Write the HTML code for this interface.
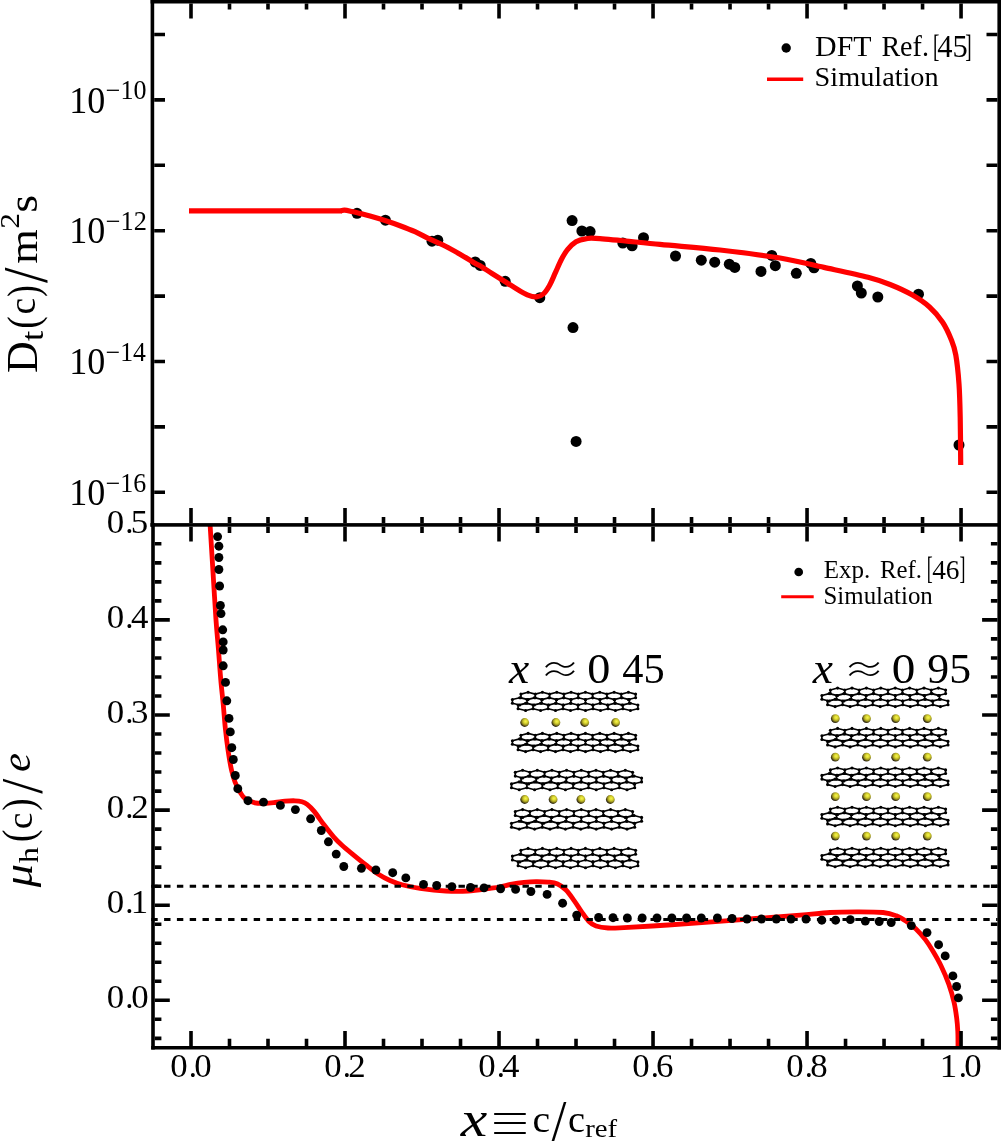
<!DOCTYPE html><html><head><meta charset="utf-8"><title>plot</title><style>html,body{margin:0;padding:0;background:#fff;}svg{display:block;}</style></head><body><svg width="1001" height="1141" viewBox="0 0 1001 1141" font-family="'Liberation Serif', serif" fill="#000">
<rect x="0" y="0" width="1001" height="1141" fill="#fff"/>
<defs>
<clipPath id="cpTop"><rect x="152" y="2" width="847" height="522"/></clipPath>
<clipPath id="cpBot"><rect x="153" y="526" width="846" height="521"/></clipPath>
<radialGradient id="ball" cx="0.6" cy="0.38" r="0.64" fx="0.6" fy="0.38">
<stop offset="0" stop-color="#f6f44c"/><stop offset="0.3" stop-color="#dedb34"/>
<stop offset="0.6" stop-color="#a49c22"/><stop offset="0.85" stop-color="#4a4212"/><stop offset="1" stop-color="#221c12"/></radialGradient>
</defs>
<g><circle cx="357" cy="213.3" r="5.5"/><circle cx="385.4" cy="220.2" r="5.5"/><circle cx="432" cy="241.2" r="5.5"/><circle cx="437.8" cy="240.2" r="5.5"/><circle cx="475.2" cy="262" r="5.5"/><circle cx="480.2" cy="265.4" r="5.5"/><circle cx="505.2" cy="281.3" r="5.5"/><circle cx="539.8" cy="297.7" r="5.5"/><circle cx="572.1" cy="220.6" r="5.5"/><circle cx="581.9" cy="231" r="5.5"/><circle cx="590.1" cy="231.6" r="5.5"/><circle cx="573" cy="327.6" r="5.5"/><circle cx="576.1" cy="441.4" r="5.5"/><circle cx="622.8" cy="243" r="5.5"/><circle cx="632.1" cy="245.8" r="5.5"/><circle cx="643.5" cy="237.7" r="5.5"/><circle cx="675.5" cy="256" r="5.5"/><circle cx="701.3" cy="260.2" r="5.5"/><circle cx="714.7" cy="262.2" r="5.5"/><circle cx="729.3" cy="264.2" r="5.5"/><circle cx="734.8" cy="267.4" r="5.5"/><circle cx="761" cy="271.4" r="5.5"/><circle cx="771.8" cy="255.4" r="5.5"/><circle cx="775.3" cy="265.7" r="5.5"/><circle cx="796.3" cy="273.3" r="5.5"/><circle cx="810.8" cy="263.4" r="5.5"/><circle cx="814" cy="267.8" r="5.5"/><circle cx="857.4" cy="286" r="5.5"/><circle cx="861.3" cy="293" r="5.5"/><circle cx="877.8" cy="297" r="5.5"/><circle cx="918.5" cy="294.2" r="5.5"/><circle cx="959" cy="445" r="5.5"/></g>
<g clip-path="url(#cpTop)"><path d="M189,210.9 L342,210.9" stroke="#ff0000" stroke-width="5.2" fill="none"/><path d="M341.00,210.90 C341.58,210.77 342.67,210.00 344.50,210.10 C346.33,210.20 349.42,210.95 352.00,211.50 C354.58,212.05 357.00,212.65 360.00,213.40 C363.00,214.15 365.83,214.82 370.00,216.00 C374.17,217.18 380.00,218.88 385.00,220.50 C390.00,222.12 395.00,223.83 400.00,225.70 C405.00,227.57 410.00,229.45 415.00,231.70 C420.00,233.95 425.00,236.82 430.00,239.20 C435.00,241.58 440.00,243.50 445.00,246.00 C450.00,248.50 455.00,251.33 460.00,254.20 C465.00,257.07 471.67,261.27 475.00,263.20 C478.33,265.13 477.17,264.08 480.00,265.80 C482.83,267.52 488.00,270.97 492.00,273.50 C496.00,276.03 500.00,278.50 504.00,281.00 C508.00,283.50 512.00,286.15 516.00,288.50 C520.00,290.85 524.60,293.70 528.00,295.10 C531.40,296.50 533.82,297.10 536.40,296.90 C538.98,296.70 541.32,295.80 543.50,293.90 C545.68,292.00 547.50,289.08 549.50,285.50 C551.50,281.92 553.50,276.78 555.50,272.40 C557.50,268.02 559.50,263.00 561.50,259.20 C563.50,255.40 565.08,252.50 567.50,249.60 C569.92,246.70 573.00,243.60 576.00,241.80 C579.00,240.00 581.50,239.33 585.50,238.80 C589.50,238.27 587.58,237.67 600.00,238.60 C612.42,239.53 640.00,242.50 660.00,244.40 C680.00,246.30 700.00,247.73 720.00,250.00 C740.00,252.27 762.67,255.10 780.00,258.00 C797.33,260.90 809.33,264.18 824.00,267.40 C838.67,270.62 857.00,274.45 868.00,277.30 C879.00,280.15 882.67,281.58 890.00,284.50 C897.33,287.42 905.42,291.05 912.00,294.80 C918.58,298.55 924.40,302.42 929.50,307.00 C934.60,311.58 938.95,316.80 942.60,322.30 C946.25,327.80 949.20,334.55 951.40,340.00 C953.60,345.45 954.53,347.67 955.80,355.00 C957.07,362.33 958.27,373.67 959.00,384.00 C959.73,394.33 959.92,403.50 960.20,417.00 C960.48,430.50 960.62,457.00 960.70,465.00" stroke="#ff0000" stroke-width="5.2" fill="none" stroke-linejoin="round"/></g>
<g clip-path="url(#cpBot)"><path d="M209.50,515.00 C209.60,516.67 209.52,515.50 210.10,525.00 C210.68,534.50 212.02,556.17 213.00,572.00 C213.98,587.83 215.08,607.00 216.00,620.00 C216.92,633.00 217.70,640.00 218.50,650.00 C219.30,660.00 220.00,670.83 220.80,680.00 C221.60,689.17 222.55,697.00 223.30,705.00 C224.05,713.00 224.52,720.50 225.30,728.00 C226.08,735.50 226.97,743.00 228.00,750.00 C229.03,757.00 230.33,764.67 231.50,770.00 C232.67,775.33 233.58,778.33 235.00,782.00 C236.42,785.67 238.33,789.25 240.00,792.00 C241.67,794.75 242.50,796.70 245.00,798.50 C247.50,800.30 251.67,802.00 255.00,802.80 C258.33,803.60 261.67,803.35 265.00,803.30 C268.33,803.25 271.67,802.85 275.00,802.50 C278.33,802.15 281.67,801.48 285.00,801.20 C288.33,800.92 292.17,800.70 295.00,800.80 C297.83,800.90 299.97,801.20 302.00,801.80 C304.03,802.40 305.13,802.77 307.20,804.40 C309.27,806.03 311.60,808.20 314.40,811.60 C317.20,815.00 320.80,820.60 324.00,824.80 C327.20,829.00 330.60,833.40 333.60,836.80 C336.60,840.20 338.60,842.12 342.00,845.20 C345.40,848.28 350.00,852.00 354.00,855.30 C358.00,858.60 362.00,861.88 366.00,865.00 C370.00,868.12 374.00,871.42 378.00,874.00 C382.00,876.58 386.00,878.72 390.00,880.50 C394.00,882.28 397.00,883.40 402.00,884.70 C407.00,886.00 412.67,887.25 420.00,888.30 C427.33,889.35 438.00,890.55 446.00,891.00 C454.00,891.45 460.67,891.43 468.00,891.00 C475.33,890.57 484.67,889.07 490.00,888.40 C495.33,887.73 496.33,887.73 500.00,887.00 C503.67,886.27 508.00,884.78 512.00,884.00 C516.00,883.22 520.00,882.70 524.00,882.30 C528.00,881.90 532.00,881.63 536.00,881.60 C540.00,881.57 544.40,881.70 548.00,882.10 C551.60,882.50 554.60,882.68 557.60,884.00 C560.60,885.32 563.22,887.20 566.00,890.00 C568.78,892.80 571.72,897.20 574.30,900.80 C576.88,904.40 579.10,908.20 581.50,911.60 C583.90,915.00 586.28,918.80 588.70,921.20 C591.12,923.60 592.78,924.87 596.00,926.00 C599.22,927.13 603.33,927.73 608.00,928.00 C612.67,928.27 614.00,928.10 624.00,927.60 C634.00,927.10 653.33,925.97 668.00,925.00 C682.67,924.03 697.33,922.88 712.00,921.80 C726.67,920.72 741.33,919.60 756.00,918.50 C770.67,917.40 787.67,916.20 800.00,915.20 C812.33,914.20 820.50,913.05 830.00,912.50 C839.50,911.95 848.15,911.90 857.00,911.90 C865.85,911.90 876.55,911.85 883.10,912.50 C889.65,913.15 892.35,914.27 896.30,915.80 C900.25,917.33 903.52,919.52 906.80,921.70 C910.08,923.88 912.93,925.95 916.00,928.90 C919.07,931.85 922.37,935.68 925.20,939.40 C928.03,943.12 930.37,946.82 933.00,951.20 C935.63,955.58 938.37,960.22 941.00,965.70 C943.63,971.18 946.62,977.97 948.80,984.10 C950.98,990.23 952.78,996.80 954.10,1002.50 C955.42,1008.20 956.08,1013.48 956.70,1018.30 C957.32,1023.12 957.58,1026.78 957.80,1031.40 C958.02,1036.02 957.97,1041.23 958.00,1046.00 C958.03,1050.77 958.00,1057.67 958.00,1060.00" stroke="#ff0000" stroke-width="4.8" fill="none" stroke-linejoin="round"/></g>
<line x1="151.3" y1="886.2" x2="997.5" y2="886.2" stroke="#000" stroke-width="3" stroke-dasharray="6.4 6.4"/>
<line x1="151.3" y1="919.5" x2="997.5" y2="919.5" stroke="#000" stroke-width="3" stroke-dasharray="6.4 6.4"/>
<g><circle cx="217.6" cy="536.6" r="4.45"/><circle cx="218.9" cy="546.2" r="4.45"/><circle cx="218.9" cy="557.5" r="4.45"/><circle cx="218.9" cy="569.5" r="4.45"/><circle cx="219.6" cy="586" r="4.45"/><circle cx="220.4" cy="605.5" r="4.45"/><circle cx="221" cy="613.6" r="4.45"/><circle cx="222.7" cy="629.8" r="4.45"/><circle cx="223.2" cy="641.9" r="4.45"/><circle cx="223.2" cy="650" r="4.45"/><circle cx="223.2" cy="665.8" r="4.45"/><circle cx="225.5" cy="682.4" r="4.45"/><circle cx="226.8" cy="700.8" r="4.45"/><circle cx="229" cy="718.4" r="4.45"/><circle cx="230.3" cy="731.9" r="4.45"/><circle cx="231.8" cy="747.7" r="4.45"/><circle cx="233.3" cy="759.5" r="4.45"/><circle cx="235.3" cy="775.5" r="4.45"/><circle cx="237.8" cy="788.7" r="4.45"/><circle cx="248" cy="800.7" r="4.45"/><circle cx="263.5" cy="802.1" r="4.45"/><circle cx="280.4" cy="805.4" r="4.45"/><circle cx="295.4" cy="809.6" r="4.45"/><circle cx="310.6" cy="818.8" r="4.45"/><circle cx="321.3" cy="830.5" r="4.45"/><circle cx="328.4" cy="841.8" r="4.45"/><circle cx="336.2" cy="854.1" r="4.45"/><circle cx="343.8" cy="866.5" r="4.45"/><circle cx="361.4" cy="868.3" r="4.45"/><circle cx="375.9" cy="870" r="4.45"/><circle cx="392.7" cy="872.7" r="4.45"/><circle cx="405.8" cy="877.9" r="4.45"/><circle cx="423.5" cy="884.4" r="4.45"/><circle cx="436.7" cy="885.5" r="4.45"/><circle cx="451.9" cy="886.6" r="4.45"/><circle cx="470.5" cy="887.5" r="4.45"/><circle cx="484" cy="887.9" r="4.45"/><circle cx="500.6" cy="888.8" r="4.45"/><circle cx="515.6" cy="889.4" r="4.45"/><circle cx="530.9" cy="891.5" r="4.45"/><circle cx="547.1" cy="894.4" r="4.45"/><circle cx="562.6" cy="903.2" r="4.45"/><circle cx="576.7" cy="915.2" r="4.45"/><circle cx="598.6" cy="917.5" r="4.45"/><circle cx="613" cy="917.7" r="4.45"/><circle cx="627.3" cy="918" r="4.45"/><circle cx="642.2" cy="918" r="4.45"/><circle cx="657" cy="918" r="4.45"/><circle cx="671.9" cy="918" r="4.45"/><circle cx="686.6" cy="918" r="4.45"/><circle cx="701.3" cy="918" r="4.45"/><circle cx="717.4" cy="918" r="4.45"/><circle cx="732.1" cy="918.5" r="4.45"/><circle cx="747" cy="919" r="4.45"/><circle cx="761.5" cy="919" r="4.45"/><circle cx="776.3" cy="919" r="4.45"/><circle cx="791" cy="919.1" r="4.45"/><circle cx="806" cy="919.1" r="4.45"/><circle cx="821.8" cy="920.2" r="4.45"/><circle cx="835.6" cy="920.2" r="4.45"/><circle cx="850.3" cy="919.6" r="4.45"/><circle cx="865.3" cy="921.1" r="4.45"/><circle cx="879.2" cy="921.5" r="4.45"/><circle cx="891.2" cy="922.5" r="4.45"/><circle cx="911.3" cy="925.6" r="4.45"/><circle cx="927" cy="932.6" r="4.45"/><circle cx="938.6" cy="944.7" r="4.45"/><circle cx="945.2" cy="955.9" r="4.45"/><circle cx="952.9" cy="975.9" r="4.45"/><circle cx="956.6" cy="986.5" r="4.45"/><circle cx="958.4" cy="997.9" r="4.45"/></g>
<g fill="#000">
<rect x="150.6" y="0" width="850.4" height="3.5"/>
<rect x="150.6" y="0" width="3.6" height="526.7"/>
<rect x="150.4" y="523.1" width="850.6" height="3.6"/>
<rect x="151.2" y="523" width="3.6" height="526.5"/>
<rect x="151.2" y="1046" width="849.8" height="3.5"/>
<rect x="997.4" y="0" width="3.6" height="1049.5"/>
</g>
<path d="M191.00,3.50V18.60M191.00,523.10V508.10M191.00,526.70V541.40M191.00,1046.00V1031.00M229.50,3.50V9.60M229.50,523.10V517.00M229.50,526.70V533.00M229.50,1046.00V1038.70M268.00,3.50V9.60M268.00,523.10V517.00M268.00,526.70V533.00M268.00,1046.00V1038.70M306.51,3.50V9.60M306.51,523.10V517.00M306.51,526.70V533.00M306.51,1046.00V1038.70M345.01,3.50V18.60M345.01,523.10V508.10M345.01,526.70V541.40M345.01,1046.00V1031.00M383.51,3.50V9.60M383.51,523.10V517.00M383.51,526.70V533.00M383.51,1046.00V1038.70M422.01,3.50V9.60M422.01,523.10V517.00M422.01,526.70V533.00M422.01,1046.00V1038.70M460.52,3.50V9.60M460.52,523.10V517.00M460.52,526.70V533.00M460.52,1046.00V1038.70M499.02,3.50V18.60M499.02,523.10V508.10M499.02,526.70V541.40M499.02,1046.00V1031.00M537.52,3.50V9.60M537.52,523.10V517.00M537.52,526.70V533.00M537.52,1046.00V1038.70M576.02,3.50V9.60M576.02,523.10V517.00M576.02,526.70V533.00M576.02,1046.00V1038.70M614.53,3.50V9.60M614.53,523.10V517.00M614.53,526.70V533.00M614.53,1046.00V1038.70M653.03,3.50V18.60M653.03,523.10V508.10M653.03,526.70V541.40M653.03,1046.00V1031.00M691.53,3.50V9.60M691.53,523.10V517.00M691.53,526.70V533.00M691.53,1046.00V1038.70M730.03,3.50V9.60M730.03,523.10V517.00M730.03,526.70V533.00M730.03,1046.00V1038.70M768.54,3.50V9.60M768.54,523.10V517.00M768.54,526.70V533.00M768.54,1046.00V1038.70M807.04,3.50V18.60M807.04,523.10V508.10M807.04,526.70V541.40M807.04,1046.00V1031.00M845.54,3.50V9.60M845.54,523.10V517.00M845.54,526.70V533.00M845.54,1046.00V1038.70M884.04,3.50V9.60M884.04,523.10V517.00M884.04,526.70V533.00M884.04,1046.00V1038.70M922.55,3.50V9.60M922.55,523.10V517.00M922.55,526.70V533.00M922.55,1046.00V1038.70M961.05,3.50V18.60M961.05,523.10V508.10M961.05,526.70V541.40M961.05,1046.00V1031.00M154.20,34.50H165.00M997.40,34.50H986.50M154.20,99.90H165.00M997.40,99.90H986.50M154.20,165.30H165.00M997.40,165.30H986.50M154.20,230.70H165.00M997.40,230.70H986.50M154.20,296.10H165.00M997.40,296.10H986.50M154.20,361.50H165.00M997.40,361.50H986.50M154.20,426.90H165.00M997.40,426.90H986.50M154.20,492.30H165.00M997.40,492.30H986.50M154.80,1038.34H161.40M997.50,1038.34H990.90M154.80,1019.32H161.40M997.50,1019.32H990.90M154.80,1000.30H169.80M997.50,1000.30H982.10M154.80,981.28H161.40M997.50,981.28H990.90M154.80,962.26H161.40M997.50,962.26H990.90M154.80,943.24H161.40M997.50,943.24H990.90M154.80,924.22H161.40M997.50,924.22H990.90M154.80,905.20H169.80M997.50,905.20H982.10M154.80,886.18H161.40M997.50,886.18H990.90M154.80,867.16H161.40M997.50,867.16H990.90M154.80,848.14H161.40M997.50,848.14H990.90M154.80,829.12H161.40M997.50,829.12H990.90M154.80,810.10H169.80M997.50,810.10H982.10M154.80,791.08H161.40M997.50,791.08H990.90M154.80,772.06H161.40M997.50,772.06H990.90M154.80,753.04H161.40M997.50,753.04H990.90M154.80,734.02H161.40M997.50,734.02H990.90M154.80,715.00H169.80M997.50,715.00H982.10M154.80,695.98H161.40M997.50,695.98H990.90M154.80,676.96H161.40M997.50,676.96H990.90M154.80,657.94H161.40M997.50,657.94H990.90M154.80,638.92H161.40M997.50,638.92H990.90M154.80,619.90H169.80M997.50,619.90H982.10M154.80,600.88H161.40M997.50,600.88H990.90M154.80,581.86H161.40M997.50,581.86H990.90M154.80,562.84H161.40M997.50,562.84H990.90M154.80,543.82H161.40M997.50,543.82H990.90" stroke="#000" stroke-width="3.6" fill="none"/>
<text x="69.33" y="112.60" font-size="37.60" textLength="36.04" lengthAdjust="spacingAndGlyphs">10</text>
<text x="105.70" y="99.10" font-size="26.30" textLength="40.79" lengthAdjust="spacingAndGlyphs">−10</text>
<text x="69.33" y="243.40" font-size="37.60" textLength="36.04" lengthAdjust="spacingAndGlyphs">10</text>
<text x="105.69" y="229.90" font-size="26.30" textLength="41.27" lengthAdjust="spacingAndGlyphs">−12</text>
<text x="69.33" y="374.20" font-size="37.60" textLength="36.04" lengthAdjust="spacingAndGlyphs">10</text>
<text x="105.72" y="360.70" font-size="26.30" textLength="40.18" lengthAdjust="spacingAndGlyphs">−14</text>
<text x="69.33" y="505.00" font-size="37.60" textLength="36.04" lengthAdjust="spacingAndGlyphs">10</text>
<text x="105.71" y="491.50" font-size="26.30" textLength="40.56" lengthAdjust="spacingAndGlyphs">−16</text>
<text x="106.88" y="1008.30" font-size="32.90" textLength="17.44" lengthAdjust="spacingAndGlyphs">0</text><text x="125.14" y="1008.30" font-size="32.90" textLength="8.22" lengthAdjust="spacingAndGlyphs">.</text><text x="131.18" y="1008.30" font-size="32.90" textLength="17.44" lengthAdjust="spacingAndGlyphs">0</text>
<text x="106.88" y="913.20" font-size="32.90" textLength="17.44" lengthAdjust="spacingAndGlyphs">0</text><text x="125.14" y="913.20" font-size="32.90" textLength="8.22" lengthAdjust="spacingAndGlyphs">.</text><text x="130.70" y="913.20" font-size="32.90" textLength="17.44" lengthAdjust="spacingAndGlyphs">1</text>
<text x="106.88" y="818.10" font-size="32.90" textLength="17.44" lengthAdjust="spacingAndGlyphs">0</text><text x="125.14" y="818.10" font-size="32.90" textLength="8.22" lengthAdjust="spacingAndGlyphs">.</text><text x="131.38" y="818.10" font-size="32.90" textLength="17.44" lengthAdjust="spacingAndGlyphs">2</text>
<text x="106.88" y="723.00" font-size="32.90" textLength="17.44" lengthAdjust="spacingAndGlyphs">0</text><text x="125.14" y="723.00" font-size="32.90" textLength="8.22" lengthAdjust="spacingAndGlyphs">.</text><text x="131.03" y="723.00" font-size="32.90" textLength="17.44" lengthAdjust="spacingAndGlyphs">3</text>
<text x="106.88" y="627.90" font-size="32.90" textLength="17.44" lengthAdjust="spacingAndGlyphs">0</text><text x="125.14" y="627.90" font-size="32.90" textLength="8.22" lengthAdjust="spacingAndGlyphs">.</text><text x="131.11" y="627.90" font-size="32.90" textLength="17.44" lengthAdjust="spacingAndGlyphs">4</text>
<text x="106.88" y="532.80" font-size="32.90" textLength="17.44" lengthAdjust="spacingAndGlyphs">0</text><text x="125.14" y="532.80" font-size="32.90" textLength="8.22" lengthAdjust="spacingAndGlyphs">.</text><text x="130.85" y="532.80" font-size="32.90" textLength="17.44" lengthAdjust="spacingAndGlyphs">5</text>
<text x="170.18" y="1076.80" font-size="32.90" textLength="17.44" lengthAdjust="spacingAndGlyphs">0</text><text x="188.64" y="1076.80" font-size="32.90" textLength="8.22" lengthAdjust="spacingAndGlyphs">.</text><text x="194.18" y="1076.80" font-size="32.90" textLength="17.44" lengthAdjust="spacingAndGlyphs">0</text>
<text x="324.19" y="1076.80" font-size="32.90" textLength="17.44" lengthAdjust="spacingAndGlyphs">0</text><text x="342.65" y="1076.80" font-size="32.90" textLength="8.22" lengthAdjust="spacingAndGlyphs">.</text><text x="348.39" y="1076.80" font-size="32.90" textLength="17.44" lengthAdjust="spacingAndGlyphs">2</text>
<text x="478.20" y="1076.80" font-size="32.90" textLength="17.44" lengthAdjust="spacingAndGlyphs">0</text><text x="496.66" y="1076.80" font-size="32.90" textLength="8.22" lengthAdjust="spacingAndGlyphs">.</text><text x="502.13" y="1076.80" font-size="32.90" textLength="17.44" lengthAdjust="spacingAndGlyphs">4</text>
<text x="632.21" y="1076.80" font-size="32.90" textLength="17.44" lengthAdjust="spacingAndGlyphs">0</text><text x="650.67" y="1076.80" font-size="32.90" textLength="8.22" lengthAdjust="spacingAndGlyphs">.</text><text x="655.98" y="1076.80" font-size="32.90" textLength="17.44" lengthAdjust="spacingAndGlyphs">6</text>
<text x="786.22" y="1076.80" font-size="32.90" textLength="17.44" lengthAdjust="spacingAndGlyphs">0</text><text x="804.68" y="1076.80" font-size="32.90" textLength="8.22" lengthAdjust="spacingAndGlyphs">.</text><text x="810.22" y="1076.80" font-size="32.90" textLength="17.44" lengthAdjust="spacingAndGlyphs">8</text>
<text x="939.75" y="1076.80" font-size="32.90" textLength="17.44" lengthAdjust="spacingAndGlyphs">1</text><text x="958.69" y="1076.80" font-size="32.90" textLength="8.22" lengthAdjust="spacingAndGlyphs">.</text><text x="964.23" y="1076.80" font-size="32.90" textLength="17.44" lengthAdjust="spacingAndGlyphs">0</text>
<circle cx="786.2" cy="48" r="4.7"/>
<line x1="767" y1="79.2" x2="803.2" y2="79.2" stroke="#ff0000" stroke-width="3.5"/>
<text x="815.14" y="55.54" font-size="29.08" textLength="56.46" lengthAdjust="spacingAndGlyphs">DFT</text>
<text x="881.39" y="55.60" font-size="29.20" textLength="47.56" lengthAdjust="spacingAndGlyphs">Ref.</text>
<text x="933.07" y="57.38" font-size="32.26" textLength="6.43" lengthAdjust="spacingAndGlyphs">[</text>
<text x="937.20" y="57.29" font-size="31.89" textLength="30.49" lengthAdjust="spacingAndGlyphs">45</text>
<text x="965.30" y="57.38" font-size="32.26" textLength="6.43" lengthAdjust="spacingAndGlyphs">]</text>
<text x="814.61" y="86.00" font-size="28.00" textLength="124.02" lengthAdjust="spacingAndGlyphs">Simulation</text>
<circle cx="798.7" cy="572" r="4.35"/>
<line x1="781.2" y1="596.7" x2="813.7" y2="596.7" stroke="#ff0000" stroke-width="3"/>
<text x="823.78" y="578.20" font-size="25.20" textLength="46.57" lengthAdjust="spacingAndGlyphs">Exp.</text>
<text x="879.98" y="578.20" font-size="25.20" textLength="42.05" lengthAdjust="spacingAndGlyphs">Ref.</text>
<text x="926.67" y="579.25" font-size="31.78" textLength="5.98" lengthAdjust="spacingAndGlyphs">[</text>
<text x="932.17" y="578.64" font-size="26.64" textLength="27.35" lengthAdjust="spacingAndGlyphs">46</text>
<text x="959.55" y="579.25" font-size="31.78" textLength="5.98" lengthAdjust="spacingAndGlyphs">]</text>
<text x="823.54" y="603.70" font-size="24.80" textLength="109.24" lengthAdjust="spacingAndGlyphs">Simulation</text>
<g><path d="M528.10,692.30 L535.26,694.12 L535.26,697.76 L528.10,699.58 L520.94,697.76 L520.94,694.12ZM542.43,692.30 L549.60,694.12 L549.60,697.76 L542.43,699.58 L535.27,697.76 L535.27,694.12ZM556.76,692.30 L563.92,694.12 L563.92,697.76 L556.76,699.58 L549.60,697.76 L549.60,694.12ZM571.09,692.30 L578.25,694.12 L578.25,697.76 L571.09,699.58 L563.93,697.76 L563.93,694.12ZM585.42,692.30 L592.59,694.12 L592.59,697.76 L585.42,699.58 L578.26,697.76 L578.26,694.12ZM599.75,692.30 L606.91,694.12 L606.91,697.76 L599.75,699.58 L592.59,697.76 L592.59,694.12ZM614.08,692.30 L621.25,694.12 L621.25,697.76 L614.08,699.58 L606.92,697.76 L606.92,694.12ZM628.41,692.30 L635.58,694.12 L635.58,697.76 L628.41,699.58 L621.25,697.76 L621.25,694.12ZM519.70,697.76 L527.01,699.58 L527.01,703.22 L519.70,705.04 L512.39,703.22 L512.39,699.58ZM534.32,697.76 L541.62,699.58 L541.62,703.22 L534.32,705.04 L527.01,703.22 L527.01,699.58ZM548.93,697.76 L556.24,699.58 L556.24,703.22 L548.93,705.04 L541.62,703.22 L541.62,699.58ZM563.55,697.76 L570.86,699.58 L570.86,703.22 L563.55,705.04 L556.24,703.22 L556.24,699.58ZM578.17,697.76 L585.47,699.58 L585.47,703.22 L578.17,705.04 L570.86,703.22 L570.86,699.58ZM592.78,697.76 L600.09,699.58 L600.09,703.22 L592.78,705.04 L585.47,703.22 L585.47,699.58ZM607.40,697.76 L614.71,699.58 L614.71,703.22 L607.40,705.04 L600.09,703.22 L600.09,699.58ZM622.02,697.76 L629.32,699.58 L629.32,703.22 L622.02,705.04 L614.71,703.22 L614.71,699.58ZM525.60,703.22 L533.09,705.04 L533.09,708.68 L525.60,710.50 L518.11,708.68 L518.11,705.04ZM540.57,703.22 L548.06,705.04 L548.06,708.68 L540.57,710.50 L533.09,708.68 L533.09,705.04ZM555.55,703.22 L563.04,705.04 L563.04,708.68 L555.55,710.50 L548.06,708.68 L548.06,705.04ZM570.52,703.22 L578.01,705.04 L578.01,708.68 L570.52,710.50 L563.04,708.68 L563.04,705.04ZM585.50,703.22 L592.99,705.04 L592.99,708.68 L585.50,710.50 L578.01,708.68 L578.01,705.04ZM600.47,703.22 L607.96,705.04 L607.96,708.68 L600.47,710.50 L592.99,708.68 L592.99,705.04ZM615.45,703.22 L622.94,705.04 L622.94,708.68 L615.45,710.50 L607.96,708.68 L607.96,705.04ZM630.42,703.22 L637.91,705.04 L637.91,708.68 L630.42,710.50 L622.94,708.68 L622.94,705.04Z" stroke="#000" stroke-width="1.6" fill="none" stroke-linejoin="round"/><g><circle cx="600.1" cy="699.6" r="1.55"/><circle cx="600.5" cy="710.5" r="1.55"/><circle cx="563.0" cy="708.7" r="1.55"/><circle cx="628.4" cy="699.6" r="1.55"/><circle cx="525.6" cy="710.5" r="1.55"/><circle cx="622.0" cy="705.0" r="1.55"/><circle cx="578.0" cy="708.7" r="1.55"/><circle cx="540.6" cy="710.5" r="1.55"/><circle cx="548.9" cy="705.0" r="1.55"/><circle cx="607.4" cy="697.8" r="1.55"/><circle cx="520.9" cy="697.8" r="1.55"/><circle cx="635.6" cy="694.1" r="1.55"/><circle cx="549.6" cy="697.8" r="1.55"/><circle cx="585.5" cy="703.2" r="1.55"/><circle cx="534.3" cy="697.8" r="1.55"/><circle cx="533.1" cy="708.7" r="1.55"/><circle cx="600.5" cy="703.2" r="1.55"/><circle cx="525.6" cy="703.2" r="1.55"/><circle cx="512.4" cy="703.2" r="1.55"/><circle cx="608.0" cy="708.7" r="1.55"/><circle cx="629.3" cy="703.2" r="1.55"/><circle cx="528.1" cy="699.6" r="1.55"/><circle cx="556.8" cy="692.3" r="1.55"/><circle cx="578.2" cy="705.0" r="1.55"/><circle cx="527.0" cy="703.2" r="1.55"/><circle cx="637.9" cy="708.7" r="1.55"/><circle cx="519.7" cy="697.8" r="1.55"/><circle cx="621.2" cy="694.1" r="1.55"/><circle cx="563.9" cy="694.1" r="1.55"/><circle cx="578.0" cy="705.0" r="1.55"/><circle cx="635.6" cy="697.8" r="1.55"/><circle cx="563.5" cy="697.8" r="1.55"/><circle cx="570.9" cy="699.6" r="1.55"/><circle cx="518.1" cy="705.0" r="1.55"/><circle cx="592.8" cy="705.0" r="1.55"/><circle cx="614.7" cy="699.6" r="1.55"/><circle cx="571.1" cy="692.3" r="1.55"/><circle cx="593.0" cy="708.7" r="1.55"/><circle cx="542.4" cy="692.3" r="1.55"/><circle cx="608.0" cy="705.0" r="1.55"/><circle cx="556.2" cy="703.2" r="1.55"/><circle cx="548.1" cy="705.0" r="1.55"/><circle cx="606.9" cy="694.1" r="1.55"/><circle cx="614.1" cy="692.3" r="1.55"/><circle cx="556.8" cy="699.6" r="1.55"/><circle cx="585.5" cy="699.6" r="1.55"/><circle cx="622.9" cy="708.7" r="1.55"/><circle cx="637.9" cy="705.0" r="1.55"/><circle cx="621.2" cy="697.8" r="1.55"/><circle cx="607.4" cy="705.0" r="1.55"/><circle cx="563.9" cy="697.8" r="1.55"/><circle cx="592.6" cy="697.8" r="1.55"/><circle cx="512.4" cy="699.6" r="1.55"/><circle cx="629.3" cy="699.6" r="1.55"/><circle cx="534.3" cy="705.0" r="1.55"/><circle cx="563.0" cy="705.0" r="1.55"/><circle cx="571.1" cy="699.6" r="1.55"/><circle cx="527.0" cy="699.6" r="1.55"/><circle cx="535.3" cy="694.1" r="1.55"/><circle cx="628.4" cy="692.3" r="1.55"/><circle cx="593.0" cy="705.0" r="1.55"/><circle cx="578.2" cy="697.8" r="1.55"/><circle cx="542.4" cy="699.6" r="1.55"/><circle cx="599.8" cy="692.3" r="1.55"/><circle cx="541.6" cy="703.2" r="1.55"/><circle cx="533.1" cy="705.0" r="1.55"/><circle cx="519.7" cy="705.0" r="1.55"/><circle cx="549.6" cy="694.1" r="1.55"/><circle cx="614.1" cy="699.6" r="1.55"/><circle cx="622.9" cy="705.0" r="1.55"/><circle cx="541.6" cy="699.6" r="1.55"/><circle cx="563.5" cy="705.0" r="1.55"/><circle cx="630.4" cy="710.5" r="1.55"/><circle cx="622.0" cy="697.8" r="1.55"/><circle cx="548.9" cy="697.8" r="1.55"/><circle cx="570.5" cy="710.5" r="1.55"/><circle cx="578.3" cy="694.1" r="1.55"/><circle cx="556.2" cy="699.6" r="1.55"/><circle cx="585.4" cy="692.3" r="1.55"/><circle cx="535.3" cy="697.8" r="1.55"/><circle cx="630.4" cy="703.2" r="1.55"/><circle cx="599.8" cy="699.6" r="1.55"/><circle cx="570.5" cy="703.2" r="1.55"/><circle cx="518.1" cy="708.7" r="1.55"/><circle cx="615.4" cy="710.5" r="1.55"/><circle cx="606.9" cy="697.8" r="1.55"/><circle cx="520.9" cy="694.1" r="1.55"/><circle cx="555.5" cy="710.5" r="1.55"/><circle cx="578.3" cy="697.8" r="1.55"/><circle cx="540.6" cy="703.2" r="1.55"/><circle cx="548.1" cy="708.7" r="1.55"/><circle cx="592.8" cy="697.8" r="1.55"/><circle cx="528.1" cy="692.3" r="1.55"/><circle cx="585.4" cy="699.6" r="1.55"/><circle cx="615.4" cy="703.2" r="1.55"/><circle cx="600.1" cy="703.2" r="1.55"/><circle cx="570.9" cy="703.2" r="1.55"/><circle cx="592.6" cy="694.1" r="1.55"/><circle cx="614.7" cy="703.2" r="1.55"/><circle cx="555.5" cy="703.2" r="1.55"/><circle cx="585.5" cy="710.5" r="1.55"/></g><path d="M528.10,733.40 L535.26,735.22 L535.26,738.86 L528.10,740.68 L520.94,738.86 L520.94,735.22ZM542.43,733.40 L549.60,735.22 L549.60,738.86 L542.43,740.68 L535.27,738.86 L535.27,735.22ZM556.76,733.40 L563.92,735.22 L563.92,738.86 L556.76,740.68 L549.60,738.86 L549.60,735.22ZM571.09,733.40 L578.25,735.22 L578.25,738.86 L571.09,740.68 L563.93,738.86 L563.93,735.22ZM585.42,733.40 L592.59,735.22 L592.59,738.86 L585.42,740.68 L578.26,738.86 L578.26,735.22ZM599.75,733.40 L606.91,735.22 L606.91,738.86 L599.75,740.68 L592.59,738.86 L592.59,735.22ZM614.08,733.40 L621.25,735.22 L621.25,738.86 L614.08,740.68 L606.92,738.86 L606.92,735.22ZM628.41,733.40 L635.58,735.22 L635.58,738.86 L628.41,740.68 L621.25,738.86 L621.25,735.22ZM519.70,738.86 L527.01,740.68 L527.01,744.32 L519.70,746.14 L512.39,744.32 L512.39,740.68ZM534.32,738.86 L541.62,740.68 L541.62,744.32 L534.32,746.14 L527.01,744.32 L527.01,740.68ZM548.93,738.86 L556.24,740.68 L556.24,744.32 L548.93,746.14 L541.62,744.32 L541.62,740.68ZM563.55,738.86 L570.86,740.68 L570.86,744.32 L563.55,746.14 L556.24,744.32 L556.24,740.68ZM578.17,738.86 L585.47,740.68 L585.47,744.32 L578.17,746.14 L570.86,744.32 L570.86,740.68ZM592.78,738.86 L600.09,740.68 L600.09,744.32 L592.78,746.14 L585.47,744.32 L585.47,740.68ZM607.40,738.86 L614.71,740.68 L614.71,744.32 L607.40,746.14 L600.09,744.32 L600.09,740.68ZM622.02,738.86 L629.32,740.68 L629.32,744.32 L622.02,746.14 L614.71,744.32 L614.71,740.68ZM525.60,744.32 L533.09,746.14 L533.09,749.78 L525.60,751.60 L518.11,749.78 L518.11,746.14ZM540.57,744.32 L548.06,746.14 L548.06,749.78 L540.57,751.60 L533.09,749.78 L533.09,746.14ZM555.55,744.32 L563.04,746.14 L563.04,749.78 L555.55,751.60 L548.06,749.78 L548.06,746.14ZM570.52,744.32 L578.01,746.14 L578.01,749.78 L570.52,751.60 L563.04,749.78 L563.04,746.14ZM585.50,744.32 L592.99,746.14 L592.99,749.78 L585.50,751.60 L578.01,749.78 L578.01,746.14ZM600.47,744.32 L607.96,746.14 L607.96,749.78 L600.47,751.60 L592.99,749.78 L592.99,746.14ZM615.45,744.32 L622.94,746.14 L622.94,749.78 L615.45,751.60 L607.96,749.78 L607.96,746.14ZM630.42,744.32 L637.91,746.14 L637.91,749.78 L630.42,751.60 L622.94,749.78 L622.94,746.14Z" stroke="#000" stroke-width="1.6" fill="none" stroke-linejoin="round"/><g><circle cx="519.7" cy="746.1" r="1.55"/><circle cx="614.1" cy="740.7" r="1.55"/><circle cx="608.0" cy="746.1" r="1.55"/><circle cx="600.1" cy="744.3" r="1.55"/><circle cx="570.9" cy="744.3" r="1.55"/><circle cx="548.1" cy="746.1" r="1.55"/><circle cx="606.9" cy="735.2" r="1.55"/><circle cx="614.7" cy="744.3" r="1.55"/><circle cx="555.5" cy="744.3" r="1.55"/><circle cx="556.8" cy="740.7" r="1.55"/><circle cx="548.9" cy="738.9" r="1.55"/><circle cx="578.3" cy="735.2" r="1.55"/><circle cx="563.0" cy="749.8" r="1.55"/><circle cx="637.9" cy="746.1" r="1.55"/><circle cx="621.2" cy="738.9" r="1.55"/><circle cx="556.2" cy="740.7" r="1.55"/><circle cx="630.4" cy="744.3" r="1.55"/><circle cx="563.9" cy="738.9" r="1.55"/><circle cx="578.0" cy="749.8" r="1.55"/><circle cx="512.4" cy="740.7" r="1.55"/><circle cx="585.4" cy="733.4" r="1.55"/><circle cx="629.3" cy="740.7" r="1.55"/><circle cx="535.3" cy="738.9" r="1.55"/><circle cx="534.3" cy="746.1" r="1.55"/><circle cx="518.1" cy="749.8" r="1.55"/><circle cx="585.5" cy="744.3" r="1.55"/><circle cx="571.1" cy="740.7" r="1.55"/><circle cx="600.5" cy="744.3" r="1.55"/><circle cx="628.4" cy="733.4" r="1.55"/><circle cx="525.6" cy="744.3" r="1.55"/><circle cx="593.0" cy="746.1" r="1.55"/><circle cx="608.0" cy="749.8" r="1.55"/><circle cx="578.2" cy="738.9" r="1.55"/><circle cx="542.4" cy="740.7" r="1.55"/><circle cx="540.6" cy="744.3" r="1.55"/><circle cx="533.1" cy="746.1" r="1.55"/><circle cx="548.1" cy="749.8" r="1.55"/><circle cx="606.9" cy="738.9" r="1.55"/><circle cx="549.6" cy="735.2" r="1.55"/><circle cx="622.9" cy="746.1" r="1.55"/><circle cx="527.0" cy="744.3" r="1.55"/><circle cx="541.6" cy="740.7" r="1.55"/><circle cx="615.4" cy="744.3" r="1.55"/><circle cx="637.9" cy="749.8" r="1.55"/><circle cx="563.5" cy="746.1" r="1.55"/><circle cx="630.4" cy="751.6" r="1.55"/><circle cx="622.0" cy="738.9" r="1.55"/><circle cx="592.8" cy="738.9" r="1.55"/><circle cx="570.5" cy="751.6" r="1.55"/><circle cx="593.0" cy="749.8" r="1.55"/><circle cx="628.4" cy="740.7" r="1.55"/><circle cx="599.8" cy="740.7" r="1.55"/><circle cx="540.6" cy="751.6" r="1.55"/><circle cx="548.9" cy="746.1" r="1.55"/><circle cx="533.1" cy="749.8" r="1.55"/><circle cx="607.4" cy="738.9" r="1.55"/><circle cx="635.6" cy="735.2" r="1.55"/><circle cx="549.6" cy="738.9" r="1.55"/><circle cx="512.4" cy="744.3" r="1.55"/><circle cx="629.3" cy="744.3" r="1.55"/><circle cx="622.9" cy="749.8" r="1.55"/><circle cx="615.4" cy="751.6" r="1.55"/><circle cx="520.9" cy="735.2" r="1.55"/><circle cx="555.5" cy="751.6" r="1.55"/><circle cx="578.3" cy="738.9" r="1.55"/><circle cx="556.8" cy="733.4" r="1.55"/><circle cx="578.2" cy="746.1" r="1.55"/><circle cx="528.1" cy="733.4" r="1.55"/><circle cx="585.4" cy="740.7" r="1.55"/><circle cx="519.7" cy="738.9" r="1.55"/><circle cx="621.2" cy="735.2" r="1.55"/><circle cx="563.9" cy="735.2" r="1.55"/><circle cx="592.6" cy="735.2" r="1.55"/><circle cx="541.6" cy="744.3" r="1.55"/><circle cx="585.5" cy="751.6" r="1.55"/><circle cx="600.1" cy="740.7" r="1.55"/><circle cx="570.9" cy="740.7" r="1.55"/><circle cx="600.5" cy="751.6" r="1.55"/><circle cx="525.6" cy="751.6" r="1.55"/><circle cx="622.0" cy="746.1" r="1.55"/><circle cx="592.8" cy="746.1" r="1.55"/><circle cx="614.7" cy="740.7" r="1.55"/><circle cx="571.1" cy="733.4" r="1.55"/><circle cx="556.2" cy="744.3" r="1.55"/><circle cx="520.9" cy="738.9" r="1.55"/><circle cx="542.4" cy="733.4" r="1.55"/><circle cx="534.3" cy="738.9" r="1.55"/><circle cx="614.1" cy="733.4" r="1.55"/><circle cx="585.5" cy="740.7" r="1.55"/><circle cx="528.1" cy="740.7" r="1.55"/><circle cx="607.4" cy="746.1" r="1.55"/><circle cx="592.6" cy="738.9" r="1.55"/><circle cx="570.5" cy="744.3" r="1.55"/><circle cx="563.0" cy="746.1" r="1.55"/><circle cx="578.0" cy="746.1" r="1.55"/><circle cx="527.0" cy="740.7" r="1.55"/><circle cx="535.3" cy="735.2" r="1.55"/><circle cx="635.6" cy="738.9" r="1.55"/><circle cx="563.5" cy="738.9" r="1.55"/><circle cx="518.1" cy="746.1" r="1.55"/><circle cx="599.8" cy="733.4" r="1.55"/></g><path d="M522.60,770.20 L529.94,772.15 L529.94,776.05 L522.60,778.00 L515.26,776.05 L515.26,772.15ZM537.27,770.20 L544.61,772.15 L544.61,776.05 L537.27,778.00 L529.93,776.05 L529.93,772.15ZM551.94,770.20 L559.28,772.15 L559.28,776.05 L551.94,778.00 L544.61,776.05 L544.61,772.15ZM566.61,770.20 L573.95,772.15 L573.95,776.05 L566.61,778.00 L559.27,776.05 L559.27,772.15ZM581.28,770.20 L588.62,772.15 L588.62,776.05 L581.28,778.00 L573.94,776.05 L573.94,772.15ZM595.95,770.20 L603.29,772.15 L603.29,776.05 L595.95,778.00 L588.62,776.05 L588.62,772.15ZM610.62,770.20 L617.96,772.15 L617.96,776.05 L610.62,778.00 L603.28,776.05 L603.28,772.15ZM625.29,770.20 L632.62,772.15 L632.62,776.05 L625.29,778.00 L617.95,776.05 L617.95,772.15ZM528.60,776.05 L536.13,778.00 L536.13,781.90 L528.60,783.85 L521.07,781.90 L521.07,778.00ZM543.67,776.05 L551.20,778.00 L551.20,781.90 L543.67,783.85 L536.13,781.90 L536.13,778.00ZM558.73,776.05 L566.27,778.00 L566.27,781.90 L558.73,783.85 L551.20,781.90 L551.20,778.00ZM573.80,776.05 L581.33,778.00 L581.33,781.90 L573.80,783.85 L566.27,781.90 L566.27,778.00ZM588.86,776.05 L596.40,778.00 L596.40,781.90 L588.86,783.85 L581.33,781.90 L581.33,778.00ZM603.93,776.05 L611.46,778.00 L611.46,781.90 L603.93,783.85 L596.40,781.90 L596.40,778.00ZM619.00,776.05 L626.53,778.00 L626.53,781.90 L619.00,783.85 L611.46,781.90 L611.46,778.00ZM634.06,776.05 L641.60,778.00 L641.60,781.90 L634.06,783.85 L626.53,781.90 L626.53,778.00ZM519.20,781.90 L526.90,783.85 L526.90,787.75 L519.20,789.70 L511.50,787.75 L511.50,783.85ZM534.60,781.90 L542.31,783.85 L542.31,787.75 L534.60,789.70 L526.90,787.75 L526.90,783.85ZM550.01,781.90 L557.71,783.85 L557.71,787.75 L550.01,789.70 L542.31,787.75 L542.31,783.85ZM565.41,781.90 L573.11,783.85 L573.11,787.75 L565.41,789.70 L557.71,787.75 L557.71,783.85ZM580.81,781.90 L588.52,783.85 L588.52,787.75 L580.81,789.70 L573.11,787.75 L573.11,783.85ZM596.22,781.90 L603.92,783.85 L603.92,787.75 L596.22,789.70 L588.52,787.75 L588.52,783.85ZM611.62,781.90 L619.32,783.85 L619.32,787.75 L611.62,789.70 L603.92,787.75 L603.92,783.85ZM627.02,781.90 L634.73,783.85 L634.73,787.75 L627.02,789.70 L619.32,787.75 L619.32,783.85Z" stroke="#000" stroke-width="1.6" fill="none" stroke-linejoin="round"/><g><circle cx="536.1" cy="778.0" r="1.55"/><circle cx="596.0" cy="778.0" r="1.55"/><circle cx="641.6" cy="781.9" r="1.55"/><circle cx="619.0" cy="776.1" r="1.55"/><circle cx="618.0" cy="772.2" r="1.55"/><circle cx="528.6" cy="776.1" r="1.55"/><circle cx="610.6" cy="778.0" r="1.55"/><circle cx="543.7" cy="776.1" r="1.55"/><circle cx="632.6" cy="772.2" r="1.55"/><circle cx="558.7" cy="776.1" r="1.55"/><circle cx="588.9" cy="783.9" r="1.55"/><circle cx="634.7" cy="783.9" r="1.55"/><circle cx="515.3" cy="776.1" r="1.55"/><circle cx="581.3" cy="770.2" r="1.55"/><circle cx="566.3" cy="781.9" r="1.55"/><circle cx="603.9" cy="783.9" r="1.55"/><circle cx="529.9" cy="776.1" r="1.55"/><circle cx="588.5" cy="783.9" r="1.55"/><circle cx="596.4" cy="778.0" r="1.55"/><circle cx="573.9" cy="776.1" r="1.55"/><circle cx="611.5" cy="778.0" r="1.55"/><circle cx="543.7" cy="783.9" r="1.55"/><circle cx="521.1" cy="781.9" r="1.55"/><circle cx="558.7" cy="783.9" r="1.55"/><circle cx="536.1" cy="781.9" r="1.55"/><circle cx="573.9" cy="772.2" r="1.55"/><circle cx="551.2" cy="778.0" r="1.55"/><circle cx="534.6" cy="789.7" r="1.55"/><circle cx="511.5" cy="787.8" r="1.55"/><circle cx="519.2" cy="789.7" r="1.55"/><circle cx="625.3" cy="778.0" r="1.55"/><circle cx="534.6" cy="781.9" r="1.55"/><circle cx="596.4" cy="781.9" r="1.55"/><circle cx="611.5" cy="781.9" r="1.55"/><circle cx="519.2" cy="781.9" r="1.55"/><circle cx="537.3" cy="778.0" r="1.55"/><circle cx="596.0" cy="770.2" r="1.55"/><circle cx="515.3" cy="772.2" r="1.55"/><circle cx="544.6" cy="776.1" r="1.55"/><circle cx="551.9" cy="778.0" r="1.55"/><circle cx="588.6" cy="776.1" r="1.55"/><circle cx="610.6" cy="770.2" r="1.55"/><circle cx="634.1" cy="783.9" r="1.55"/><circle cx="529.9" cy="772.2" r="1.55"/><circle cx="626.5" cy="778.0" r="1.55"/><circle cx="551.2" cy="781.9" r="1.55"/><circle cx="522.6" cy="778.0" r="1.55"/><circle cx="566.6" cy="778.0" r="1.55"/><circle cx="596.2" cy="789.7" r="1.55"/><circle cx="573.1" cy="787.8" r="1.55"/><circle cx="544.6" cy="772.2" r="1.55"/><circle cx="588.6" cy="772.2" r="1.55"/><circle cx="542.3" cy="787.8" r="1.55"/><circle cx="550.0" cy="789.7" r="1.55"/><circle cx="634.1" cy="776.1" r="1.55"/><circle cx="559.3" cy="776.1" r="1.55"/><circle cx="537.3" cy="770.2" r="1.55"/><circle cx="603.3" cy="776.1" r="1.55"/><circle cx="573.1" cy="783.9" r="1.55"/><circle cx="511.5" cy="783.9" r="1.55"/><circle cx="542.3" cy="783.9" r="1.55"/><circle cx="596.2" cy="781.9" r="1.55"/><circle cx="581.3" cy="778.0" r="1.55"/><circle cx="618.0" cy="776.1" r="1.55"/><circle cx="559.3" cy="772.2" r="1.55"/><circle cx="603.3" cy="772.2" r="1.55"/><circle cx="550.0" cy="781.9" r="1.55"/><circle cx="632.6" cy="776.1" r="1.55"/><circle cx="626.5" cy="781.9" r="1.55"/><circle cx="634.7" cy="787.8" r="1.55"/><circle cx="603.9" cy="787.8" r="1.55"/><circle cx="641.6" cy="778.0" r="1.55"/><circle cx="557.7" cy="787.8" r="1.55"/><circle cx="611.6" cy="789.7" r="1.55"/><circle cx="588.5" cy="787.8" r="1.55"/><circle cx="526.9" cy="787.8" r="1.55"/><circle cx="573.8" cy="783.9" r="1.55"/><circle cx="580.8" cy="789.7" r="1.55"/><circle cx="625.3" cy="770.2" r="1.55"/><circle cx="565.4" cy="789.7" r="1.55"/><circle cx="619.3" cy="787.8" r="1.55"/><circle cx="566.3" cy="778.0" r="1.55"/><circle cx="557.7" cy="783.9" r="1.55"/><circle cx="627.0" cy="789.7" r="1.55"/><circle cx="526.9" cy="783.9" r="1.55"/><circle cx="551.9" cy="770.2" r="1.55"/><circle cx="611.6" cy="781.9" r="1.55"/><circle cx="581.3" cy="781.9" r="1.55"/><circle cx="619.0" cy="783.9" r="1.55"/><circle cx="528.6" cy="783.9" r="1.55"/><circle cx="573.8" cy="776.1" r="1.55"/><circle cx="580.8" cy="781.9" r="1.55"/><circle cx="619.3" cy="783.9" r="1.55"/><circle cx="588.9" cy="776.1" r="1.55"/><circle cx="565.4" cy="781.9" r="1.55"/><circle cx="603.9" cy="776.1" r="1.55"/><circle cx="522.6" cy="770.2" r="1.55"/><circle cx="566.6" cy="770.2" r="1.55"/><circle cx="521.1" cy="778.0" r="1.55"/><circle cx="627.0" cy="781.9" r="1.55"/></g><path d="M522.60,809.60 L529.94,811.55 L529.94,815.45 L522.60,817.40 L515.26,815.45 L515.26,811.55ZM537.27,809.60 L544.61,811.55 L544.61,815.45 L537.27,817.40 L529.93,815.45 L529.93,811.55ZM551.94,809.60 L559.28,811.55 L559.28,815.45 L551.94,817.40 L544.61,815.45 L544.61,811.55ZM566.61,809.60 L573.95,811.55 L573.95,815.45 L566.61,817.40 L559.27,815.45 L559.27,811.55ZM581.28,809.60 L588.62,811.55 L588.62,815.45 L581.28,817.40 L573.94,815.45 L573.94,811.55ZM595.95,809.60 L603.29,811.55 L603.29,815.45 L595.95,817.40 L588.62,815.45 L588.62,811.55ZM610.62,809.60 L617.96,811.55 L617.96,815.45 L610.62,817.40 L603.28,815.45 L603.28,811.55ZM625.29,809.60 L632.62,811.55 L632.62,815.45 L625.29,817.40 L617.95,815.45 L617.95,811.55ZM528.60,815.45 L536.13,817.40 L536.13,821.30 L528.60,823.25 L521.07,821.30 L521.07,817.40ZM543.67,815.45 L551.20,817.40 L551.20,821.30 L543.67,823.25 L536.13,821.30 L536.13,817.40ZM558.73,815.45 L566.27,817.40 L566.27,821.30 L558.73,823.25 L551.20,821.30 L551.20,817.40ZM573.80,815.45 L581.33,817.40 L581.33,821.30 L573.80,823.25 L566.27,821.30 L566.27,817.40ZM588.86,815.45 L596.40,817.40 L596.40,821.30 L588.86,823.25 L581.33,821.30 L581.33,817.40ZM603.93,815.45 L611.46,817.40 L611.46,821.30 L603.93,823.25 L596.40,821.30 L596.40,817.40ZM619.00,815.45 L626.53,817.40 L626.53,821.30 L619.00,823.25 L611.46,821.30 L611.46,817.40ZM634.06,815.45 L641.60,817.40 L641.60,821.30 L634.06,823.25 L626.53,821.30 L626.53,817.40ZM519.20,821.30 L526.90,823.25 L526.90,827.15 L519.20,829.10 L511.50,827.15 L511.50,823.25ZM534.60,821.30 L542.31,823.25 L542.31,827.15 L534.60,829.10 L526.90,827.15 L526.90,823.25ZM550.01,821.30 L557.71,823.25 L557.71,827.15 L550.01,829.10 L542.31,827.15 L542.31,823.25ZM565.41,821.30 L573.11,823.25 L573.11,827.15 L565.41,829.10 L557.71,827.15 L557.71,823.25ZM580.81,821.30 L588.52,823.25 L588.52,827.15 L580.81,829.10 L573.11,827.15 L573.11,823.25ZM596.22,821.30 L603.92,823.25 L603.92,827.15 L596.22,829.10 L588.52,827.15 L588.52,823.25ZM611.62,821.30 L619.32,823.25 L619.32,827.15 L611.62,829.10 L603.92,827.15 L603.92,823.25ZM627.02,821.30 L634.73,823.25 L634.73,827.15 L627.02,829.10 L619.32,827.15 L619.32,823.25Z" stroke="#000" stroke-width="1.6" fill="none" stroke-linejoin="round"/><g><circle cx="544.6" cy="815.5" r="1.55"/><circle cx="551.9" cy="817.4" r="1.55"/><circle cx="610.6" cy="809.6" r="1.55"/><circle cx="529.9" cy="811.6" r="1.55"/><circle cx="634.7" cy="827.2" r="1.55"/><circle cx="626.5" cy="817.4" r="1.55"/><circle cx="603.9" cy="827.2" r="1.55"/><circle cx="634.7" cy="823.3" r="1.55"/><circle cx="557.7" cy="827.2" r="1.55"/><circle cx="603.9" cy="823.3" r="1.55"/><circle cx="522.6" cy="817.4" r="1.55"/><circle cx="588.5" cy="827.2" r="1.55"/><circle cx="566.6" cy="817.4" r="1.55"/><circle cx="526.9" cy="827.2" r="1.55"/><circle cx="544.6" cy="811.6" r="1.55"/><circle cx="588.6" cy="811.6" r="1.55"/><circle cx="588.5" cy="823.3" r="1.55"/><circle cx="619.3" cy="827.2" r="1.55"/><circle cx="581.3" cy="821.3" r="1.55"/><circle cx="634.1" cy="815.5" r="1.55"/><circle cx="559.3" cy="815.5" r="1.55"/><circle cx="537.3" cy="809.6" r="1.55"/><circle cx="603.3" cy="815.5" r="1.55"/><circle cx="619.3" cy="823.3" r="1.55"/><circle cx="551.9" cy="809.6" r="1.55"/><circle cx="581.3" cy="817.4" r="1.55"/><circle cx="618.0" cy="815.5" r="1.55"/><circle cx="559.3" cy="811.6" r="1.55"/><circle cx="603.3" cy="811.6" r="1.55"/><circle cx="534.6" cy="829.1" r="1.55"/><circle cx="632.6" cy="815.5" r="1.55"/><circle cx="519.2" cy="829.1" r="1.55"/><circle cx="596.0" cy="817.4" r="1.55"/><circle cx="618.0" cy="811.6" r="1.55"/><circle cx="641.6" cy="817.4" r="1.55"/><circle cx="566.3" cy="821.3" r="1.55"/><circle cx="596.4" cy="821.3" r="1.55"/><circle cx="625.3" cy="809.6" r="1.55"/><circle cx="519.2" cy="821.3" r="1.55"/><circle cx="566.3" cy="817.4" r="1.55"/><circle cx="521.1" cy="821.3" r="1.55"/><circle cx="596.4" cy="817.4" r="1.55"/><circle cx="536.1" cy="821.3" r="1.55"/><circle cx="573.9" cy="815.5" r="1.55"/><circle cx="573.8" cy="815.5" r="1.55"/><circle cx="551.2" cy="821.3" r="1.55"/><circle cx="588.9" cy="815.5" r="1.55"/><circle cx="596.2" cy="829.1" r="1.55"/><circle cx="634.1" cy="823.2" r="1.55"/><circle cx="603.9" cy="815.5" r="1.55"/><circle cx="522.6" cy="809.6" r="1.55"/><circle cx="566.6" cy="809.6" r="1.55"/><circle cx="521.1" cy="817.4" r="1.55"/><circle cx="536.1" cy="817.4" r="1.55"/><circle cx="550.0" cy="829.1" r="1.55"/><circle cx="619.0" cy="815.5" r="1.55"/><circle cx="528.6" cy="815.5" r="1.55"/><circle cx="610.6" cy="817.4" r="1.55"/><circle cx="543.7" cy="815.5" r="1.55"/><circle cx="511.5" cy="823.3" r="1.55"/><circle cx="632.6" cy="811.6" r="1.55"/><circle cx="596.2" cy="821.3" r="1.55"/><circle cx="558.7" cy="815.5" r="1.55"/><circle cx="534.6" cy="821.3" r="1.55"/><circle cx="515.3" cy="815.5" r="1.55"/><circle cx="611.5" cy="821.3" r="1.55"/><circle cx="581.3" cy="809.6" r="1.55"/><circle cx="550.0" cy="821.3" r="1.55"/><circle cx="529.9" cy="815.5" r="1.55"/><circle cx="537.3" cy="817.4" r="1.55"/><circle cx="596.0" cy="809.6" r="1.55"/><circle cx="611.5" cy="817.4" r="1.55"/><circle cx="515.3" cy="811.6" r="1.55"/><circle cx="588.6" cy="815.5" r="1.55"/><circle cx="611.6" cy="829.1" r="1.55"/><circle cx="580.8" cy="829.1" r="1.55"/><circle cx="565.4" cy="829.1" r="1.55"/><circle cx="573.9" cy="811.6" r="1.55"/><circle cx="573.1" cy="827.2" r="1.55"/><circle cx="551.2" cy="817.4" r="1.55"/><circle cx="557.7" cy="823.3" r="1.55"/><circle cx="511.5" cy="827.2" r="1.55"/><circle cx="627.0" cy="829.1" r="1.55"/><circle cx="573.8" cy="823.2" r="1.55"/><circle cx="542.3" cy="827.2" r="1.55"/><circle cx="573.1" cy="823.3" r="1.55"/><circle cx="526.9" cy="823.3" r="1.55"/><circle cx="588.9" cy="823.2" r="1.55"/><circle cx="611.6" cy="821.3" r="1.55"/><circle cx="542.3" cy="823.3" r="1.55"/><circle cx="603.9" cy="823.2" r="1.55"/><circle cx="580.8" cy="821.3" r="1.55"/><circle cx="565.4" cy="821.3" r="1.55"/><circle cx="625.3" cy="817.4" r="1.55"/><circle cx="619.0" cy="823.2" r="1.55"/><circle cx="627.0" cy="821.3" r="1.55"/><circle cx="528.6" cy="823.2" r="1.55"/><circle cx="626.5" cy="821.3" r="1.55"/><circle cx="543.7" cy="823.2" r="1.55"/><circle cx="641.6" cy="821.3" r="1.55"/><circle cx="558.7" cy="823.2" r="1.55"/></g><path d="M528.10,848.40 L535.26,850.33 L535.26,854.19 L528.10,856.12 L520.94,854.19 L520.94,850.33ZM542.43,848.40 L549.60,850.33 L549.60,854.19 L542.43,856.12 L535.27,854.19 L535.27,850.33ZM556.76,848.40 L563.92,850.33 L563.92,854.19 L556.76,856.12 L549.60,854.19 L549.60,850.33ZM571.09,848.40 L578.25,850.33 L578.25,854.19 L571.09,856.12 L563.93,854.19 L563.93,850.33ZM585.42,848.40 L592.59,850.33 L592.59,854.19 L585.42,856.12 L578.26,854.19 L578.26,850.33ZM599.75,848.40 L606.91,850.33 L606.91,854.19 L599.75,856.12 L592.59,854.19 L592.59,850.33ZM614.08,848.40 L621.25,850.33 L621.25,854.19 L614.08,856.12 L606.92,854.19 L606.92,850.33ZM628.41,848.40 L635.58,850.33 L635.58,854.19 L628.41,856.12 L621.25,854.19 L621.25,850.33ZM519.70,854.19 L527.01,856.12 L527.01,859.98 L519.70,861.91 L512.39,859.98 L512.39,856.12ZM534.32,854.19 L541.62,856.12 L541.62,859.98 L534.32,861.91 L527.01,859.98 L527.01,856.12ZM548.93,854.19 L556.24,856.12 L556.24,859.98 L548.93,861.91 L541.62,859.98 L541.62,856.12ZM563.55,854.19 L570.86,856.12 L570.86,859.98 L563.55,861.91 L556.24,859.98 L556.24,856.12ZM578.17,854.19 L585.47,856.12 L585.47,859.98 L578.17,861.91 L570.86,859.98 L570.86,856.12ZM592.78,854.19 L600.09,856.12 L600.09,859.98 L592.78,861.91 L585.47,859.98 L585.47,856.12ZM607.40,854.19 L614.71,856.12 L614.71,859.98 L607.40,861.91 L600.09,859.98 L600.09,856.12ZM622.02,854.19 L629.32,856.12 L629.32,859.98 L622.02,861.91 L614.71,859.98 L614.71,856.12ZM525.60,859.98 L533.09,861.91 L533.09,865.77 L525.60,867.70 L518.11,865.77 L518.11,861.91ZM540.57,859.98 L548.06,861.91 L548.06,865.77 L540.57,867.70 L533.09,865.77 L533.09,861.91ZM555.55,859.98 L563.04,861.91 L563.04,865.77 L555.55,867.70 L548.06,865.77 L548.06,861.91ZM570.52,859.98 L578.01,861.91 L578.01,865.77 L570.52,867.70 L563.04,865.77 L563.04,861.91ZM585.50,859.98 L592.99,861.91 L592.99,865.77 L585.50,867.70 L578.01,865.77 L578.01,861.91ZM600.47,859.98 L607.96,861.91 L607.96,865.77 L600.47,867.70 L592.99,865.77 L592.99,861.91ZM615.45,859.98 L622.94,861.91 L622.94,865.77 L615.45,867.70 L607.96,865.77 L607.96,861.91ZM630.42,859.98 L637.91,861.91 L637.91,865.77 L630.42,867.70 L622.94,865.77 L622.94,861.91Z" stroke="#000" stroke-width="1.6" fill="none" stroke-linejoin="round"/><g><circle cx="607.4" cy="854.2" r="1.55"/><circle cx="614.1" cy="856.1" r="1.55"/><circle cx="593.0" cy="861.9" r="1.55"/><circle cx="541.6" cy="856.1" r="1.55"/><circle cx="549.6" cy="850.3" r="1.55"/><circle cx="533.1" cy="861.9" r="1.55"/><circle cx="630.4" cy="867.7" r="1.55"/><circle cx="622.9" cy="861.9" r="1.55"/><circle cx="556.2" cy="856.1" r="1.55"/><circle cx="578.3" cy="854.2" r="1.55"/><circle cx="563.5" cy="861.9" r="1.55"/><circle cx="570.5" cy="867.7" r="1.55"/><circle cx="630.4" cy="860.0" r="1.55"/><circle cx="578.3" cy="850.3" r="1.55"/><circle cx="570.5" cy="860.0" r="1.55"/><circle cx="628.4" cy="856.1" r="1.55"/><circle cx="519.7" cy="854.2" r="1.55"/><circle cx="599.8" cy="856.1" r="1.55"/><circle cx="528.1" cy="848.4" r="1.55"/><circle cx="600.5" cy="867.7" r="1.55"/><circle cx="525.6" cy="867.7" r="1.55"/><circle cx="540.6" cy="867.7" r="1.55"/><circle cx="548.9" cy="861.9" r="1.55"/><circle cx="520.9" cy="854.2" r="1.55"/><circle cx="615.4" cy="867.7" r="1.55"/><circle cx="549.6" cy="854.2" r="1.55"/><circle cx="520.9" cy="850.3" r="1.55"/><circle cx="534.3" cy="854.2" r="1.55"/><circle cx="555.5" cy="867.7" r="1.55"/><circle cx="615.4" cy="860.0" r="1.55"/><circle cx="600.1" cy="860.0" r="1.55"/><circle cx="570.9" cy="860.0" r="1.55"/><circle cx="585.4" cy="856.1" r="1.55"/><circle cx="614.7" cy="860.0" r="1.55"/><circle cx="555.5" cy="860.0" r="1.55"/><circle cx="578.0" cy="865.8" r="1.55"/><circle cx="518.1" cy="865.8" r="1.55"/><circle cx="578.2" cy="861.9" r="1.55"/><circle cx="600.1" cy="856.1" r="1.55"/><circle cx="570.9" cy="856.1" r="1.55"/><circle cx="592.6" cy="850.3" r="1.55"/><circle cx="585.5" cy="867.7" r="1.55"/><circle cx="556.8" cy="848.4" r="1.55"/><circle cx="614.7" cy="856.1" r="1.55"/><circle cx="585.5" cy="860.0" r="1.55"/><circle cx="608.0" cy="865.8" r="1.55"/><circle cx="635.6" cy="854.2" r="1.55"/><circle cx="563.5" cy="854.2" r="1.55"/><circle cx="600.5" cy="860.0" r="1.55"/><circle cx="525.6" cy="860.0" r="1.55"/><circle cx="512.4" cy="860.0" r="1.55"/><circle cx="635.6" cy="850.3" r="1.55"/><circle cx="592.8" cy="861.9" r="1.55"/><circle cx="622.0" cy="861.9" r="1.55"/><circle cx="548.1" cy="865.8" r="1.55"/><circle cx="540.6" cy="860.0" r="1.55"/><circle cx="637.9" cy="865.8" r="1.55"/><circle cx="585.5" cy="856.1" r="1.55"/><circle cx="528.1" cy="856.1" r="1.55"/><circle cx="571.1" cy="848.4" r="1.55"/><circle cx="527.0" cy="860.0" r="1.55"/><circle cx="542.4" cy="848.4" r="1.55"/><circle cx="563.0" cy="865.8" r="1.55"/><circle cx="548.9" cy="854.2" r="1.55"/><circle cx="621.2" cy="854.2" r="1.55"/><circle cx="614.1" cy="848.4" r="1.55"/><circle cx="607.4" cy="861.9" r="1.55"/><circle cx="563.9" cy="854.2" r="1.55"/><circle cx="592.6" cy="854.2" r="1.55"/><circle cx="527.0" cy="856.1" r="1.55"/><circle cx="621.2" cy="850.3" r="1.55"/><circle cx="593.0" cy="865.8" r="1.55"/><circle cx="563.9" cy="850.3" r="1.55"/><circle cx="563.0" cy="861.9" r="1.55"/><circle cx="535.3" cy="850.3" r="1.55"/><circle cx="533.1" cy="865.8" r="1.55"/><circle cx="578.0" cy="861.9" r="1.55"/><circle cx="622.9" cy="865.8" r="1.55"/><circle cx="556.2" cy="860.0" r="1.55"/><circle cx="518.1" cy="861.9" r="1.55"/><circle cx="578.2" cy="854.2" r="1.55"/><circle cx="629.3" cy="860.0" r="1.55"/><circle cx="628.4" cy="848.4" r="1.55"/><circle cx="606.9" cy="854.2" r="1.55"/><circle cx="556.8" cy="856.1" r="1.55"/><circle cx="599.8" cy="848.4" r="1.55"/><circle cx="519.7" cy="861.9" r="1.55"/><circle cx="608.0" cy="861.9" r="1.55"/><circle cx="606.9" cy="850.3" r="1.55"/><circle cx="512.4" cy="856.1" r="1.55"/><circle cx="548.1" cy="861.9" r="1.55"/><circle cx="622.0" cy="854.2" r="1.55"/><circle cx="629.3" cy="856.1" r="1.55"/><circle cx="592.8" cy="854.2" r="1.55"/><circle cx="637.9" cy="861.9" r="1.55"/><circle cx="571.1" cy="856.1" r="1.55"/><circle cx="541.6" cy="860.0" r="1.55"/><circle cx="535.3" cy="854.2" r="1.55"/><circle cx="534.3" cy="861.9" r="1.55"/><circle cx="542.4" cy="856.1" r="1.55"/><circle cx="585.4" cy="848.4" r="1.55"/></g><circle cx="524.7" cy="722.5" r="4.4" fill="url(#ball)"/><circle cx="555.9" cy="722.5" r="4.4" fill="url(#ball)"/><circle cx="584.7" cy="722.5" r="4.4" fill="url(#ball)"/><circle cx="615.6" cy="722.5" r="4.4" fill="url(#ball)"/><circle cx="524.7" cy="799.5" r="4.4" fill="url(#ball)"/><circle cx="553.1" cy="799.5" r="4.4" fill="url(#ball)"/><circle cx="580.9" cy="799.5" r="4.4" fill="url(#ball)"/><circle cx="610.3" cy="799.5" r="4.4" fill="url(#ball)"/></g>
<g><path d="M837.60,688.10 L844.80,689.95 L844.80,693.65 L837.60,695.50 L830.40,693.65 L830.40,689.95ZM852.00,688.10 L859.20,689.95 L859.20,693.65 L852.00,695.50 L844.80,693.65 L844.80,689.95ZM866.40,688.10 L873.60,689.95 L873.60,693.65 L866.40,695.50 L859.20,693.65 L859.20,689.95ZM880.80,688.10 L888.00,689.95 L888.00,693.65 L880.80,695.50 L873.60,693.65 L873.60,689.95ZM895.20,688.10 L902.40,689.95 L902.40,693.65 L895.20,695.50 L888.00,693.65 L888.00,689.95ZM909.60,688.10 L916.80,689.95 L916.80,693.65 L909.60,695.50 L902.40,693.65 L902.40,689.95ZM924.00,688.10 L931.20,689.95 L931.20,693.65 L924.00,695.50 L916.80,693.65 L916.80,689.95ZM938.40,688.10 L945.60,689.95 L945.60,693.65 L938.40,695.50 L931.20,693.65 L931.20,689.95ZM829.20,693.65 L836.54,695.50 L836.54,699.20 L829.20,701.05 L821.86,699.20 L821.86,695.50ZM843.89,693.65 L851.23,695.50 L851.23,699.20 L843.89,701.05 L836.54,699.20 L836.54,695.50ZM858.58,693.65 L865.92,695.50 L865.92,699.20 L858.58,701.05 L851.23,699.20 L851.23,695.50ZM873.26,693.65 L880.61,695.50 L880.61,699.20 L873.26,701.05 L865.92,699.20 L865.92,695.50ZM887.95,693.65 L895.30,695.50 L895.30,699.20 L887.95,701.05 L880.61,699.20 L880.61,695.50ZM902.64,693.65 L909.98,695.50 L909.98,699.20 L902.64,701.05 L895.30,699.20 L895.30,695.50ZM917.33,693.65 L924.67,695.50 L924.67,699.20 L917.33,701.05 L909.98,699.20 L909.98,695.50ZM932.02,693.65 L939.36,695.50 L939.36,699.20 L932.02,701.05 L924.67,699.20 L924.67,695.50ZM835.10,699.20 L842.62,701.05 L842.62,704.75 L835.10,706.60 L827.58,704.75 L827.58,701.05ZM850.15,699.20 L857.67,701.05 L857.67,704.75 L850.15,706.60 L842.62,704.75 L842.62,701.05ZM865.20,699.20 L872.72,701.05 L872.72,704.75 L865.20,706.60 L857.67,704.75 L857.67,701.05ZM880.24,699.20 L887.77,701.05 L887.77,704.75 L880.24,706.60 L872.72,704.75 L872.72,701.05ZM895.29,699.20 L902.82,701.05 L902.82,704.75 L895.29,706.60 L887.77,704.75 L887.77,701.05ZM910.34,699.20 L917.86,701.05 L917.86,704.75 L910.34,706.60 L902.82,704.75 L902.82,701.05ZM925.39,699.20 L932.91,701.05 L932.91,704.75 L925.39,706.60 L917.86,704.75 L917.86,701.05ZM940.44,699.20 L947.96,701.05 L947.96,704.75 L940.44,706.60 L932.91,704.75 L932.91,701.05Z" stroke="#000" stroke-width="1.6" fill="none" stroke-linejoin="round"/><g><circle cx="895.3" cy="699.2" r="1.55"/><circle cx="925.4" cy="699.2" r="1.55"/><circle cx="948.0" cy="704.8" r="1.55"/><circle cx="837.6" cy="695.5" r="1.55"/><circle cx="910.0" cy="699.2" r="1.55"/><circle cx="902.6" cy="693.6" r="1.55"/><circle cx="850.1" cy="699.2" r="1.55"/><circle cx="873.6" cy="690.0" r="1.55"/><circle cx="843.9" cy="701.0" r="1.55"/><circle cx="910.0" cy="695.5" r="1.55"/><circle cx="909.6" cy="695.5" r="1.55"/><circle cx="938.4" cy="695.5" r="1.55"/><circle cx="887.8" cy="701.1" r="1.55"/><circle cx="844.8" cy="690.0" r="1.55"/><circle cx="827.6" cy="701.1" r="1.55"/><circle cx="945.6" cy="690.0" r="1.55"/><circle cx="902.8" cy="701.1" r="1.55"/><circle cx="945.6" cy="693.6" r="1.55"/><circle cx="835.1" cy="706.6" r="1.55"/><circle cx="910.3" cy="706.6" r="1.55"/><circle cx="916.8" cy="690.0" r="1.55"/><circle cx="924.0" cy="695.5" r="1.55"/><circle cx="866.4" cy="695.5" r="1.55"/><circle cx="843.9" cy="693.6" r="1.55"/><circle cx="852.0" cy="688.1" r="1.55"/><circle cx="924.7" cy="699.2" r="1.55"/><circle cx="865.9" cy="695.5" r="1.55"/><circle cx="836.5" cy="699.2" r="1.55"/><circle cx="865.2" cy="699.2" r="1.55"/><circle cx="873.6" cy="693.6" r="1.55"/><circle cx="940.4" cy="699.2" r="1.55"/><circle cx="880.2" cy="699.2" r="1.55"/><circle cx="902.4" cy="690.0" r="1.55"/><circle cx="895.3" cy="706.6" r="1.55"/><circle cx="924.7" cy="695.5" r="1.55"/><circle cx="836.5" cy="695.5" r="1.55"/><circle cx="880.6" cy="695.5" r="1.55"/><circle cx="844.8" cy="693.6" r="1.55"/><circle cx="917.9" cy="701.1" r="1.55"/><circle cx="938.4" cy="688.1" r="1.55"/><circle cx="859.2" cy="690.0" r="1.55"/><circle cx="859.2" cy="693.6" r="1.55"/><circle cx="880.8" cy="688.1" r="1.55"/><circle cx="851.2" cy="695.5" r="1.55"/><circle cx="895.2" cy="695.5" r="1.55"/><circle cx="850.1" cy="706.6" r="1.55"/><circle cx="917.3" cy="693.6" r="1.55"/><circle cx="932.0" cy="693.6" r="1.55"/><circle cx="916.8" cy="693.6" r="1.55"/><circle cx="842.6" cy="701.1" r="1.55"/><circle cx="830.4" cy="690.0" r="1.55"/><circle cx="931.2" cy="690.0" r="1.55"/><circle cx="931.2" cy="693.6" r="1.55"/><circle cx="865.9" cy="699.2" r="1.55"/><circle cx="872.7" cy="701.1" r="1.55"/><circle cx="821.9" cy="695.5" r="1.55"/><circle cx="858.6" cy="693.6" r="1.55"/><circle cx="917.3" cy="701.0" r="1.55"/><circle cx="932.0" cy="701.0" r="1.55"/><circle cx="866.4" cy="688.1" r="1.55"/><circle cx="887.8" cy="704.8" r="1.55"/><circle cx="880.6" cy="699.2" r="1.55"/><circle cx="827.6" cy="704.8" r="1.55"/><circle cx="902.8" cy="704.8" r="1.55"/><circle cx="837.6" cy="688.1" r="1.55"/><circle cx="858.6" cy="701.0" r="1.55"/><circle cx="917.9" cy="704.8" r="1.55"/><circle cx="902.4" cy="693.6" r="1.55"/><circle cx="851.2" cy="699.2" r="1.55"/><circle cx="925.4" cy="706.6" r="1.55"/><circle cx="939.4" cy="699.2" r="1.55"/><circle cx="873.3" cy="693.6" r="1.55"/><circle cx="909.6" cy="688.1" r="1.55"/><circle cx="852.0" cy="695.5" r="1.55"/><circle cx="842.6" cy="704.8" r="1.55"/><circle cx="829.2" cy="701.0" r="1.55"/><circle cx="857.7" cy="701.1" r="1.55"/><circle cx="939.4" cy="695.5" r="1.55"/><circle cx="932.9" cy="701.1" r="1.55"/><circle cx="872.7" cy="704.8" r="1.55"/><circle cx="888.0" cy="690.0" r="1.55"/><circle cx="821.9" cy="699.2" r="1.55"/><circle cx="865.2" cy="706.6" r="1.55"/><circle cx="888.0" cy="693.6" r="1.55"/><circle cx="895.3" cy="695.5" r="1.55"/><circle cx="835.1" cy="699.2" r="1.55"/><circle cx="940.4" cy="706.6" r="1.55"/><circle cx="910.3" cy="699.2" r="1.55"/><circle cx="873.3" cy="701.0" r="1.55"/><circle cx="880.2" cy="706.6" r="1.55"/><circle cx="830.4" cy="693.6" r="1.55"/><circle cx="948.0" cy="701.1" r="1.55"/><circle cx="895.2" cy="688.1" r="1.55"/><circle cx="924.0" cy="688.1" r="1.55"/><circle cx="888.0" cy="701.0" r="1.55"/><circle cx="902.6" cy="701.0" r="1.55"/><circle cx="880.8" cy="695.5" r="1.55"/><circle cx="829.2" cy="693.6" r="1.55"/><circle cx="857.7" cy="704.8" r="1.55"/><circle cx="932.9" cy="704.8" r="1.55"/></g><path d="M837.60,728.40 L844.80,730.25 L844.80,733.95 L837.60,735.80 L830.40,733.95 L830.40,730.25ZM852.00,728.40 L859.20,730.25 L859.20,733.95 L852.00,735.80 L844.80,733.95 L844.80,730.25ZM866.40,728.40 L873.60,730.25 L873.60,733.95 L866.40,735.80 L859.20,733.95 L859.20,730.25ZM880.80,728.40 L888.00,730.25 L888.00,733.95 L880.80,735.80 L873.60,733.95 L873.60,730.25ZM895.20,728.40 L902.40,730.25 L902.40,733.95 L895.20,735.80 L888.00,733.95 L888.00,730.25ZM909.60,728.40 L916.80,730.25 L916.80,733.95 L909.60,735.80 L902.40,733.95 L902.40,730.25ZM924.00,728.40 L931.20,730.25 L931.20,733.95 L924.00,735.80 L916.80,733.95 L916.80,730.25ZM938.40,728.40 L945.60,730.25 L945.60,733.95 L938.40,735.80 L931.20,733.95 L931.20,730.25ZM829.20,733.95 L836.54,735.80 L836.54,739.50 L829.20,741.35 L821.86,739.50 L821.86,735.80ZM843.89,733.95 L851.23,735.80 L851.23,739.50 L843.89,741.35 L836.54,739.50 L836.54,735.80ZM858.58,733.95 L865.92,735.80 L865.92,739.50 L858.58,741.35 L851.23,739.50 L851.23,735.80ZM873.26,733.95 L880.61,735.80 L880.61,739.50 L873.26,741.35 L865.92,739.50 L865.92,735.80ZM887.95,733.95 L895.30,735.80 L895.30,739.50 L887.95,741.35 L880.61,739.50 L880.61,735.80ZM902.64,733.95 L909.98,735.80 L909.98,739.50 L902.64,741.35 L895.30,739.50 L895.30,735.80ZM917.33,733.95 L924.67,735.80 L924.67,739.50 L917.33,741.35 L909.98,739.50 L909.98,735.80ZM932.02,733.95 L939.36,735.80 L939.36,739.50 L932.02,741.35 L924.67,739.50 L924.67,735.80ZM835.10,739.50 L842.62,741.35 L842.62,745.05 L835.10,746.90 L827.58,745.05 L827.58,741.35ZM850.15,739.50 L857.67,741.35 L857.67,745.05 L850.15,746.90 L842.62,745.05 L842.62,741.35ZM865.20,739.50 L872.72,741.35 L872.72,745.05 L865.20,746.90 L857.67,745.05 L857.67,741.35ZM880.24,739.50 L887.77,741.35 L887.77,745.05 L880.24,746.90 L872.72,745.05 L872.72,741.35ZM895.29,739.50 L902.82,741.35 L902.82,745.05 L895.29,746.90 L887.77,745.05 L887.77,741.35ZM910.34,739.50 L917.86,741.35 L917.86,745.05 L910.34,746.90 L902.82,745.05 L902.82,741.35ZM925.39,739.50 L932.91,741.35 L932.91,745.05 L925.39,746.90 L917.86,745.05 L917.86,741.35ZM940.44,739.50 L947.96,741.35 L947.96,745.05 L940.44,746.90 L932.91,745.05 L932.91,741.35Z" stroke="#000" stroke-width="1.6" fill="none" stroke-linejoin="round"/><g><circle cx="865.9" cy="739.5" r="1.55"/><circle cx="821.9" cy="735.8" r="1.55"/><circle cx="858.6" cy="733.9" r="1.55"/><circle cx="888.0" cy="730.2" r="1.55"/><circle cx="917.3" cy="741.3" r="1.55"/><circle cx="932.0" cy="741.3" r="1.55"/><circle cx="924.7" cy="739.5" r="1.55"/><circle cx="830.4" cy="730.2" r="1.55"/><circle cx="836.5" cy="739.5" r="1.55"/><circle cx="858.6" cy="741.3" r="1.55"/><circle cx="895.3" cy="746.9" r="1.55"/><circle cx="902.4" cy="733.9" r="1.55"/><circle cx="880.6" cy="735.8" r="1.55"/><circle cx="851.2" cy="739.5" r="1.55"/><circle cx="925.4" cy="746.9" r="1.55"/><circle cx="857.7" cy="745.0" r="1.55"/><circle cx="844.8" cy="733.9" r="1.55"/><circle cx="909.6" cy="728.4" r="1.55"/><circle cx="873.3" cy="733.9" r="1.55"/><circle cx="852.0" cy="735.8" r="1.55"/><circle cx="938.4" cy="728.4" r="1.55"/><circle cx="859.2" cy="733.9" r="1.55"/><circle cx="939.4" cy="735.8" r="1.55"/><circle cx="850.1" cy="746.9" r="1.55"/><circle cx="917.3" cy="733.9" r="1.55"/><circle cx="932.9" cy="741.4" r="1.55"/><circle cx="821.9" cy="739.5" r="1.55"/><circle cx="873.3" cy="741.3" r="1.55"/><circle cx="880.2" cy="746.9" r="1.55"/><circle cx="830.4" cy="733.9" r="1.55"/><circle cx="948.0" cy="741.4" r="1.55"/><circle cx="931.2" cy="733.9" r="1.55"/><circle cx="872.7" cy="741.4" r="1.55"/><circle cx="866.4" cy="728.4" r="1.55"/><circle cx="880.6" cy="739.5" r="1.55"/><circle cx="837.6" cy="728.4" r="1.55"/><circle cx="829.2" cy="733.9" r="1.55"/><circle cx="939.4" cy="739.5" r="1.55"/><circle cx="829.2" cy="741.3" r="1.55"/><circle cx="857.7" cy="741.4" r="1.55"/><circle cx="865.2" cy="746.9" r="1.55"/><circle cx="888.0" cy="733.9" r="1.55"/><circle cx="895.3" cy="735.8" r="1.55"/><circle cx="835.1" cy="739.5" r="1.55"/><circle cx="940.4" cy="746.9" r="1.55"/><circle cx="910.3" cy="739.5" r="1.55"/><circle cx="902.6" cy="733.9" r="1.55"/><circle cx="895.2" cy="728.4" r="1.55"/><circle cx="924.0" cy="728.4" r="1.55"/><circle cx="887.8" cy="745.0" r="1.55"/><circle cx="910.0" cy="735.8" r="1.55"/><circle cx="827.6" cy="745.0" r="1.55"/><circle cx="902.8" cy="745.0" r="1.55"/><circle cx="888.0" cy="741.3" r="1.55"/><circle cx="938.4" cy="735.8" r="1.55"/><circle cx="917.9" cy="745.0" r="1.55"/><circle cx="902.6" cy="741.3" r="1.55"/><circle cx="880.8" cy="735.8" r="1.55"/><circle cx="873.6" cy="730.2" r="1.55"/><circle cx="842.6" cy="745.0" r="1.55"/><circle cx="844.8" cy="730.2" r="1.55"/><circle cx="945.6" cy="730.2" r="1.55"/><circle cx="895.3" cy="739.5" r="1.55"/><circle cx="866.4" cy="735.8" r="1.55"/><circle cx="859.2" cy="730.2" r="1.55"/><circle cx="843.9" cy="733.9" r="1.55"/><circle cx="925.4" cy="739.5" r="1.55"/><circle cx="916.8" cy="730.2" r="1.55"/><circle cx="852.0" cy="728.4" r="1.55"/><circle cx="837.6" cy="735.8" r="1.55"/><circle cx="910.0" cy="739.5" r="1.55"/><circle cx="931.2" cy="730.2" r="1.55"/><circle cx="865.9" cy="735.8" r="1.55"/><circle cx="850.1" cy="739.5" r="1.55"/><circle cx="843.9" cy="741.3" r="1.55"/><circle cx="865.2" cy="739.5" r="1.55"/><circle cx="873.6" cy="733.9" r="1.55"/><circle cx="940.4" cy="739.5" r="1.55"/><circle cx="909.6" cy="735.8" r="1.55"/><circle cx="880.2" cy="739.5" r="1.55"/><circle cx="924.7" cy="735.8" r="1.55"/><circle cx="887.8" cy="741.4" r="1.55"/><circle cx="836.5" cy="735.8" r="1.55"/><circle cx="827.6" cy="741.4" r="1.55"/><circle cx="902.8" cy="741.4" r="1.55"/><circle cx="932.9" cy="745.0" r="1.55"/><circle cx="945.6" cy="733.9" r="1.55"/><circle cx="917.9" cy="741.4" r="1.55"/><circle cx="835.1" cy="746.9" r="1.55"/><circle cx="910.3" cy="746.9" r="1.55"/><circle cx="902.4" cy="730.2" r="1.55"/><circle cx="880.8" cy="728.4" r="1.55"/><circle cx="851.2" cy="735.8" r="1.55"/><circle cx="895.2" cy="735.8" r="1.55"/><circle cx="932.0" cy="733.9" r="1.55"/><circle cx="924.0" cy="735.8" r="1.55"/><circle cx="948.0" cy="745.0" r="1.55"/><circle cx="872.7" cy="745.0" r="1.55"/><circle cx="916.8" cy="733.9" r="1.55"/><circle cx="842.6" cy="741.4" r="1.55"/></g><path d="M837.60,768.00 L844.80,769.85 L844.80,773.55 L837.60,775.40 L830.40,773.55 L830.40,769.85ZM852.00,768.00 L859.20,769.85 L859.20,773.55 L852.00,775.40 L844.80,773.55 L844.80,769.85ZM866.40,768.00 L873.60,769.85 L873.60,773.55 L866.40,775.40 L859.20,773.55 L859.20,769.85ZM880.80,768.00 L888.00,769.85 L888.00,773.55 L880.80,775.40 L873.60,773.55 L873.60,769.85ZM895.20,768.00 L902.40,769.85 L902.40,773.55 L895.20,775.40 L888.00,773.55 L888.00,769.85ZM909.60,768.00 L916.80,769.85 L916.80,773.55 L909.60,775.40 L902.40,773.55 L902.40,769.85ZM924.00,768.00 L931.20,769.85 L931.20,773.55 L924.00,775.40 L916.80,773.55 L916.80,769.85ZM938.40,768.00 L945.60,769.85 L945.60,773.55 L938.40,775.40 L931.20,773.55 L931.20,769.85ZM829.20,773.55 L836.54,775.40 L836.54,779.10 L829.20,780.95 L821.86,779.10 L821.86,775.40ZM843.89,773.55 L851.23,775.40 L851.23,779.10 L843.89,780.95 L836.54,779.10 L836.54,775.40ZM858.58,773.55 L865.92,775.40 L865.92,779.10 L858.58,780.95 L851.23,779.10 L851.23,775.40ZM873.26,773.55 L880.61,775.40 L880.61,779.10 L873.26,780.95 L865.92,779.10 L865.92,775.40ZM887.95,773.55 L895.30,775.40 L895.30,779.10 L887.95,780.95 L880.61,779.10 L880.61,775.40ZM902.64,773.55 L909.98,775.40 L909.98,779.10 L902.64,780.95 L895.30,779.10 L895.30,775.40ZM917.33,773.55 L924.67,775.40 L924.67,779.10 L917.33,780.95 L909.98,779.10 L909.98,775.40ZM932.02,773.55 L939.36,775.40 L939.36,779.10 L932.02,780.95 L924.67,779.10 L924.67,775.40ZM835.10,779.10 L842.62,780.95 L842.62,784.65 L835.10,786.50 L827.58,784.65 L827.58,780.95ZM850.15,779.10 L857.67,780.95 L857.67,784.65 L850.15,786.50 L842.62,784.65 L842.62,780.95ZM865.20,779.10 L872.72,780.95 L872.72,784.65 L865.20,786.50 L857.67,784.65 L857.67,780.95ZM880.24,779.10 L887.77,780.95 L887.77,784.65 L880.24,786.50 L872.72,784.65 L872.72,780.95ZM895.29,779.10 L902.82,780.95 L902.82,784.65 L895.29,786.50 L887.77,784.65 L887.77,780.95ZM910.34,779.10 L917.86,780.95 L917.86,784.65 L910.34,786.50 L902.82,784.65 L902.82,780.95ZM925.39,779.10 L932.91,780.95 L932.91,784.65 L925.39,786.50 L917.86,784.65 L917.86,780.95ZM940.44,779.10 L947.96,780.95 L947.96,784.65 L940.44,786.50 L932.91,784.65 L932.91,780.95Z" stroke="#000" stroke-width="1.6" fill="none" stroke-linejoin="round"/><g><circle cx="931.2" cy="773.5" r="1.55"/><circle cx="865.9" cy="779.1" r="1.55"/><circle cx="872.7" cy="781.0" r="1.55"/><circle cx="821.9" cy="775.4" r="1.55"/><circle cx="858.6" cy="773.5" r="1.55"/><circle cx="924.7" cy="779.1" r="1.55"/><circle cx="836.5" cy="779.1" r="1.55"/><circle cx="895.3" cy="786.5" r="1.55"/><circle cx="902.4" cy="773.5" r="1.55"/><circle cx="880.6" cy="775.4" r="1.55"/><circle cx="873.6" cy="769.9" r="1.55"/><circle cx="851.2" cy="779.1" r="1.55"/><circle cx="843.9" cy="780.9" r="1.55"/><circle cx="925.4" cy="786.5" r="1.55"/><circle cx="909.6" cy="768.0" r="1.55"/><circle cx="873.3" cy="773.5" r="1.55"/><circle cx="852.0" cy="775.4" r="1.55"/><circle cx="938.4" cy="768.0" r="1.55"/><circle cx="917.9" cy="784.6" r="1.55"/><circle cx="859.2" cy="773.5" r="1.55"/><circle cx="857.7" cy="781.0" r="1.55"/><circle cx="844.8" cy="769.9" r="1.55"/><circle cx="939.4" cy="775.4" r="1.55"/><circle cx="945.6" cy="769.9" r="1.55"/><circle cx="850.1" cy="786.5" r="1.55"/><circle cx="932.9" cy="781.0" r="1.55"/><circle cx="821.9" cy="779.1" r="1.55"/><circle cx="865.2" cy="786.5" r="1.55"/><circle cx="940.4" cy="786.5" r="1.55"/><circle cx="910.3" cy="779.1" r="1.55"/><circle cx="842.6" cy="784.6" r="1.55"/><circle cx="880.2" cy="786.5" r="1.55"/><circle cx="830.4" cy="773.5" r="1.55"/><circle cx="948.0" cy="781.0" r="1.55"/><circle cx="916.8" cy="769.9" r="1.55"/><circle cx="924.0" cy="768.0" r="1.55"/><circle cx="872.7" cy="784.6" r="1.55"/><circle cx="866.4" cy="768.0" r="1.55"/><circle cx="931.2" cy="769.9" r="1.55"/><circle cx="880.6" cy="779.1" r="1.55"/><circle cx="837.6" cy="768.0" r="1.55"/><circle cx="829.2" cy="773.5" r="1.55"/><circle cx="939.4" cy="779.1" r="1.55"/><circle cx="858.6" cy="780.9" r="1.55"/><circle cx="902.4" cy="769.9" r="1.55"/><circle cx="895.3" cy="779.1" r="1.55"/><circle cx="857.7" cy="784.6" r="1.55"/><circle cx="932.9" cy="784.6" r="1.55"/><circle cx="895.3" cy="775.4" r="1.55"/><circle cx="888.0" cy="773.5" r="1.55"/><circle cx="835.1" cy="779.1" r="1.55"/><circle cx="859.2" cy="769.9" r="1.55"/><circle cx="902.6" cy="773.5" r="1.55"/><circle cx="895.2" cy="768.0" r="1.55"/><circle cx="948.0" cy="784.6" r="1.55"/><circle cx="910.0" cy="775.4" r="1.55"/><circle cx="938.4" cy="775.4" r="1.55"/><circle cx="830.4" cy="769.9" r="1.55"/><circle cx="880.8" cy="775.4" r="1.55"/><circle cx="917.3" cy="780.9" r="1.55"/><circle cx="932.0" cy="780.9" r="1.55"/><circle cx="866.4" cy="775.4" r="1.55"/><circle cx="843.9" cy="773.5" r="1.55"/><circle cx="925.4" cy="779.1" r="1.55"/><circle cx="852.0" cy="768.0" r="1.55"/><circle cx="837.6" cy="775.4" r="1.55"/><circle cx="910.0" cy="779.1" r="1.55"/><circle cx="829.2" cy="780.9" r="1.55"/><circle cx="850.1" cy="779.1" r="1.55"/><circle cx="865.9" cy="775.4" r="1.55"/><circle cx="888.0" cy="769.9" r="1.55"/><circle cx="865.2" cy="779.1" r="1.55"/><circle cx="873.6" cy="773.5" r="1.55"/><circle cx="940.4" cy="779.1" r="1.55"/><circle cx="909.6" cy="775.4" r="1.55"/><circle cx="873.3" cy="780.9" r="1.55"/><circle cx="880.2" cy="779.1" r="1.55"/><circle cx="924.7" cy="775.4" r="1.55"/><circle cx="887.8" cy="781.0" r="1.55"/><circle cx="836.5" cy="775.4" r="1.55"/><circle cx="887.8" cy="784.6" r="1.55"/><circle cx="827.6" cy="781.0" r="1.55"/><circle cx="902.8" cy="781.0" r="1.55"/><circle cx="844.8" cy="773.5" r="1.55"/><circle cx="827.6" cy="784.6" r="1.55"/><circle cx="945.6" cy="773.5" r="1.55"/><circle cx="902.8" cy="784.6" r="1.55"/><circle cx="888.0" cy="780.9" r="1.55"/><circle cx="835.1" cy="786.5" r="1.55"/><circle cx="917.9" cy="781.0" r="1.55"/><circle cx="910.3" cy="786.5" r="1.55"/><circle cx="902.6" cy="780.9" r="1.55"/><circle cx="880.8" cy="768.0" r="1.55"/><circle cx="851.2" cy="775.4" r="1.55"/><circle cx="895.2" cy="775.4" r="1.55"/><circle cx="917.3" cy="773.5" r="1.55"/><circle cx="932.0" cy="773.5" r="1.55"/><circle cx="924.0" cy="775.4" r="1.55"/><circle cx="916.8" cy="773.5" r="1.55"/><circle cx="842.6" cy="781.0" r="1.55"/></g><path d="M837.60,807.20 L844.80,809.05 L844.80,812.75 L837.60,814.60 L830.40,812.75 L830.40,809.05ZM852.00,807.20 L859.20,809.05 L859.20,812.75 L852.00,814.60 L844.80,812.75 L844.80,809.05ZM866.40,807.20 L873.60,809.05 L873.60,812.75 L866.40,814.60 L859.20,812.75 L859.20,809.05ZM880.80,807.20 L888.00,809.05 L888.00,812.75 L880.80,814.60 L873.60,812.75 L873.60,809.05ZM895.20,807.20 L902.40,809.05 L902.40,812.75 L895.20,814.60 L888.00,812.75 L888.00,809.05ZM909.60,807.20 L916.80,809.05 L916.80,812.75 L909.60,814.60 L902.40,812.75 L902.40,809.05ZM924.00,807.20 L931.20,809.05 L931.20,812.75 L924.00,814.60 L916.80,812.75 L916.80,809.05ZM938.40,807.20 L945.60,809.05 L945.60,812.75 L938.40,814.60 L931.20,812.75 L931.20,809.05ZM829.20,812.75 L836.54,814.60 L836.54,818.30 L829.20,820.15 L821.86,818.30 L821.86,814.60ZM843.89,812.75 L851.23,814.60 L851.23,818.30 L843.89,820.15 L836.54,818.30 L836.54,814.60ZM858.58,812.75 L865.92,814.60 L865.92,818.30 L858.58,820.15 L851.23,818.30 L851.23,814.60ZM873.26,812.75 L880.61,814.60 L880.61,818.30 L873.26,820.15 L865.92,818.30 L865.92,814.60ZM887.95,812.75 L895.30,814.60 L895.30,818.30 L887.95,820.15 L880.61,818.30 L880.61,814.60ZM902.64,812.75 L909.98,814.60 L909.98,818.30 L902.64,820.15 L895.30,818.30 L895.30,814.60ZM917.33,812.75 L924.67,814.60 L924.67,818.30 L917.33,820.15 L909.98,818.30 L909.98,814.60ZM932.02,812.75 L939.36,814.60 L939.36,818.30 L932.02,820.15 L924.67,818.30 L924.67,814.60ZM835.10,818.30 L842.62,820.15 L842.62,823.85 L835.10,825.70 L827.58,823.85 L827.58,820.15ZM850.15,818.30 L857.67,820.15 L857.67,823.85 L850.15,825.70 L842.62,823.85 L842.62,820.15ZM865.20,818.30 L872.72,820.15 L872.72,823.85 L865.20,825.70 L857.67,823.85 L857.67,820.15ZM880.24,818.30 L887.77,820.15 L887.77,823.85 L880.24,825.70 L872.72,823.85 L872.72,820.15ZM895.29,818.30 L902.82,820.15 L902.82,823.85 L895.29,825.70 L887.77,823.85 L887.77,820.15ZM910.34,818.30 L917.86,820.15 L917.86,823.85 L910.34,825.70 L902.82,823.85 L902.82,820.15ZM925.39,818.30 L932.91,820.15 L932.91,823.85 L925.39,825.70 L917.86,823.85 L917.86,820.15ZM940.44,818.30 L947.96,820.15 L947.96,823.85 L940.44,825.70 L932.91,823.85 L932.91,820.15Z" stroke="#000" stroke-width="1.6" fill="none" stroke-linejoin="round"/><g><circle cx="910.3" cy="818.3" r="1.55"/><circle cx="931.2" cy="812.8" r="1.55"/><circle cx="857.7" cy="820.2" r="1.55"/><circle cx="939.4" cy="814.6" r="1.55"/><circle cx="850.1" cy="825.7" r="1.55"/><circle cx="932.9" cy="820.2" r="1.55"/><circle cx="858.6" cy="812.8" r="1.55"/><circle cx="888.0" cy="809.1" r="1.55"/><circle cx="940.4" cy="825.7" r="1.55"/><circle cx="873.3" cy="820.1" r="1.55"/><circle cx="880.2" cy="825.7" r="1.55"/><circle cx="830.4" cy="809.1" r="1.55"/><circle cx="948.0" cy="820.2" r="1.55"/><circle cx="902.4" cy="812.8" r="1.55"/><circle cx="866.4" cy="807.2" r="1.55"/><circle cx="837.6" cy="807.2" r="1.55"/><circle cx="873.3" cy="812.8" r="1.55"/><circle cx="917.9" cy="823.9" r="1.55"/><circle cx="895.3" cy="818.3" r="1.55"/><circle cx="859.2" cy="812.8" r="1.55"/><circle cx="925.4" cy="818.3" r="1.55"/><circle cx="842.6" cy="823.9" r="1.55"/><circle cx="910.0" cy="818.3" r="1.55"/><circle cx="829.2" cy="820.1" r="1.55"/><circle cx="830.4" cy="812.8" r="1.55"/><circle cx="872.7" cy="823.9" r="1.55"/><circle cx="850.1" cy="818.3" r="1.55"/><circle cx="865.2" cy="825.7" r="1.55"/><circle cx="895.3" cy="814.6" r="1.55"/><circle cx="865.2" cy="818.3" r="1.55"/><circle cx="940.4" cy="818.3" r="1.55"/><circle cx="880.2" cy="818.3" r="1.55"/><circle cx="895.2" cy="807.2" r="1.55"/><circle cx="924.0" cy="807.2" r="1.55"/><circle cx="910.0" cy="814.6" r="1.55"/><circle cx="829.2" cy="812.8" r="1.55"/><circle cx="888.0" cy="820.1" r="1.55"/><circle cx="938.4" cy="814.6" r="1.55"/><circle cx="902.6" cy="820.1" r="1.55"/><circle cx="880.8" cy="814.6" r="1.55"/><circle cx="945.6" cy="809.1" r="1.55"/><circle cx="857.7" cy="823.9" r="1.55"/><circle cx="932.9" cy="823.9" r="1.55"/><circle cx="865.9" cy="818.3" r="1.55"/><circle cx="888.0" cy="812.8" r="1.55"/><circle cx="902.6" cy="812.8" r="1.55"/><circle cx="866.4" cy="814.6" r="1.55"/><circle cx="924.7" cy="818.3" r="1.55"/><circle cx="948.0" cy="823.9" r="1.55"/><circle cx="836.5" cy="818.3" r="1.55"/><circle cx="852.0" cy="807.2" r="1.55"/><circle cx="837.6" cy="814.6" r="1.55"/><circle cx="865.9" cy="814.6" r="1.55"/><circle cx="873.6" cy="809.1" r="1.55"/><circle cx="843.9" cy="820.1" r="1.55"/><circle cx="851.2" cy="818.3" r="1.55"/><circle cx="909.6" cy="814.6" r="1.55"/><circle cx="924.7" cy="814.6" r="1.55"/><circle cx="887.8" cy="820.2" r="1.55"/><circle cx="836.5" cy="814.6" r="1.55"/><circle cx="844.8" cy="809.1" r="1.55"/><circle cx="827.6" cy="820.2" r="1.55"/><circle cx="902.8" cy="820.2" r="1.55"/><circle cx="821.9" cy="818.3" r="1.55"/><circle cx="917.9" cy="820.2" r="1.55"/><circle cx="835.1" cy="825.7" r="1.55"/><circle cx="910.3" cy="825.7" r="1.55"/><circle cx="859.2" cy="809.1" r="1.55"/><circle cx="843.9" cy="812.8" r="1.55"/><circle cx="880.8" cy="807.2" r="1.55"/><circle cx="851.2" cy="814.6" r="1.55"/><circle cx="895.2" cy="814.6" r="1.55"/><circle cx="916.8" cy="809.1" r="1.55"/><circle cx="924.0" cy="814.6" r="1.55"/><circle cx="842.6" cy="820.2" r="1.55"/><circle cx="931.2" cy="809.1" r="1.55"/><circle cx="872.7" cy="820.2" r="1.55"/><circle cx="880.6" cy="818.3" r="1.55"/><circle cx="821.9" cy="814.6" r="1.55"/><circle cx="873.6" cy="812.8" r="1.55"/><circle cx="917.3" cy="820.1" r="1.55"/><circle cx="932.0" cy="820.1" r="1.55"/><circle cx="887.8" cy="823.9" r="1.55"/><circle cx="844.8" cy="812.8" r="1.55"/><circle cx="827.6" cy="823.9" r="1.55"/><circle cx="939.4" cy="818.3" r="1.55"/><circle cx="945.6" cy="812.8" r="1.55"/><circle cx="902.8" cy="823.9" r="1.55"/><circle cx="858.6" cy="820.1" r="1.55"/><circle cx="895.3" cy="825.7" r="1.55"/><circle cx="902.4" cy="809.1" r="1.55"/><circle cx="880.6" cy="814.6" r="1.55"/><circle cx="917.3" cy="812.8" r="1.55"/><circle cx="932.0" cy="812.8" r="1.55"/><circle cx="925.4" cy="825.7" r="1.55"/><circle cx="916.8" cy="812.8" r="1.55"/><circle cx="909.6" cy="807.2" r="1.55"/><circle cx="852.0" cy="814.6" r="1.55"/><circle cx="938.4" cy="807.2" r="1.55"/><circle cx="835.1" cy="818.3" r="1.55"/></g><path d="M837.60,848.20 L844.80,850.05 L844.80,853.75 L837.60,855.60 L830.40,853.75 L830.40,850.05ZM852.00,848.20 L859.20,850.05 L859.20,853.75 L852.00,855.60 L844.80,853.75 L844.80,850.05ZM866.40,848.20 L873.60,850.05 L873.60,853.75 L866.40,855.60 L859.20,853.75 L859.20,850.05ZM880.80,848.20 L888.00,850.05 L888.00,853.75 L880.80,855.60 L873.60,853.75 L873.60,850.05ZM895.20,848.20 L902.40,850.05 L902.40,853.75 L895.20,855.60 L888.00,853.75 L888.00,850.05ZM909.60,848.20 L916.80,850.05 L916.80,853.75 L909.60,855.60 L902.40,853.75 L902.40,850.05ZM924.00,848.20 L931.20,850.05 L931.20,853.75 L924.00,855.60 L916.80,853.75 L916.80,850.05ZM938.40,848.20 L945.60,850.05 L945.60,853.75 L938.40,855.60 L931.20,853.75 L931.20,850.05ZM829.20,853.75 L836.54,855.60 L836.54,859.30 L829.20,861.15 L821.86,859.30 L821.86,855.60ZM843.89,853.75 L851.23,855.60 L851.23,859.30 L843.89,861.15 L836.54,859.30 L836.54,855.60ZM858.58,853.75 L865.92,855.60 L865.92,859.30 L858.58,861.15 L851.23,859.30 L851.23,855.60ZM873.26,853.75 L880.61,855.60 L880.61,859.30 L873.26,861.15 L865.92,859.30 L865.92,855.60ZM887.95,853.75 L895.30,855.60 L895.30,859.30 L887.95,861.15 L880.61,859.30 L880.61,855.60ZM902.64,853.75 L909.98,855.60 L909.98,859.30 L902.64,861.15 L895.30,859.30 L895.30,855.60ZM917.33,853.75 L924.67,855.60 L924.67,859.30 L917.33,861.15 L909.98,859.30 L909.98,855.60ZM932.02,853.75 L939.36,855.60 L939.36,859.30 L932.02,861.15 L924.67,859.30 L924.67,855.60ZM835.10,859.30 L842.62,861.15 L842.62,864.85 L835.10,866.70 L827.58,864.85 L827.58,861.15ZM850.15,859.30 L857.67,861.15 L857.67,864.85 L850.15,866.70 L842.62,864.85 L842.62,861.15ZM865.20,859.30 L872.72,861.15 L872.72,864.85 L865.20,866.70 L857.67,864.85 L857.67,861.15ZM880.24,859.30 L887.77,861.15 L887.77,864.85 L880.24,866.70 L872.72,864.85 L872.72,861.15ZM895.29,859.30 L902.82,861.15 L902.82,864.85 L895.29,866.70 L887.77,864.85 L887.77,861.15ZM910.34,859.30 L917.86,861.15 L917.86,864.85 L910.34,866.70 L902.82,864.85 L902.82,861.15ZM925.39,859.30 L932.91,861.15 L932.91,864.85 L925.39,866.70 L917.86,864.85 L917.86,861.15ZM940.44,859.30 L947.96,861.15 L947.96,864.85 L940.44,866.70 L932.91,864.85 L932.91,861.15Z" stroke="#000" stroke-width="1.6" fill="none" stroke-linejoin="round"/><g><circle cx="917.3" cy="861.1" r="1.55"/><circle cx="932.0" cy="861.1" r="1.55"/><circle cx="887.8" cy="864.9" r="1.55"/><circle cx="844.8" cy="853.8" r="1.55"/><circle cx="827.6" cy="864.9" r="1.55"/><circle cx="939.4" cy="859.3" r="1.55"/><circle cx="945.6" cy="853.8" r="1.55"/><circle cx="837.6" cy="848.2" r="1.55"/><circle cx="902.8" cy="864.9" r="1.55"/><circle cx="858.6" cy="861.1" r="1.55"/><circle cx="895.3" cy="866.7" r="1.55"/><circle cx="917.9" cy="864.9" r="1.55"/><circle cx="895.3" cy="859.3" r="1.55"/><circle cx="859.2" cy="853.8" r="1.55"/><circle cx="917.3" cy="853.8" r="1.55"/><circle cx="932.0" cy="853.8" r="1.55"/><circle cx="925.4" cy="866.7" r="1.55"/><circle cx="916.8" cy="853.8" r="1.55"/><circle cx="909.6" cy="848.2" r="1.55"/><circle cx="852.0" cy="855.6" r="1.55"/><circle cx="938.4" cy="848.2" r="1.55"/><circle cx="835.1" cy="859.3" r="1.55"/><circle cx="842.6" cy="864.9" r="1.55"/><circle cx="931.2" cy="853.8" r="1.55"/><circle cx="857.7" cy="861.2" r="1.55"/><circle cx="939.4" cy="855.6" r="1.55"/><circle cx="850.1" cy="866.7" r="1.55"/><circle cx="932.9" cy="861.2" r="1.55"/><circle cx="858.6" cy="853.8" r="1.55"/><circle cx="888.0" cy="850.1" r="1.55"/><circle cx="865.2" cy="866.7" r="1.55"/><circle cx="895.3" cy="855.6" r="1.55"/><circle cx="940.4" cy="866.7" r="1.55"/><circle cx="873.3" cy="861.1" r="1.55"/><circle cx="880.2" cy="866.7" r="1.55"/><circle cx="948.0" cy="861.2" r="1.55"/><circle cx="924.0" cy="848.2" r="1.55"/><circle cx="902.4" cy="853.8" r="1.55"/><circle cx="888.0" cy="861.1" r="1.55"/><circle cx="866.4" cy="848.2" r="1.55"/><circle cx="880.8" cy="855.6" r="1.55"/><circle cx="873.3" cy="853.8" r="1.55"/><circle cx="925.4" cy="859.3" r="1.55"/><circle cx="932.9" cy="864.9" r="1.55"/><circle cx="888.0" cy="853.8" r="1.55"/><circle cx="910.0" cy="859.3" r="1.55"/><circle cx="829.2" cy="861.1" r="1.55"/><circle cx="830.4" cy="853.8" r="1.55"/><circle cx="948.0" cy="864.9" r="1.55"/><circle cx="872.7" cy="864.9" r="1.55"/><circle cx="850.1" cy="859.3" r="1.55"/><circle cx="865.2" cy="859.3" r="1.55"/><circle cx="940.4" cy="859.3" r="1.55"/><circle cx="880.2" cy="859.3" r="1.55"/><circle cx="895.2" cy="848.2" r="1.55"/><circle cx="873.6" cy="850.1" r="1.55"/><circle cx="910.0" cy="855.6" r="1.55"/><circle cx="829.2" cy="853.8" r="1.55"/><circle cx="909.6" cy="855.6" r="1.55"/><circle cx="938.4" cy="855.6" r="1.55"/><circle cx="902.6" cy="861.1" r="1.55"/><circle cx="945.6" cy="850.1" r="1.55"/><circle cx="902.8" cy="861.2" r="1.55"/><circle cx="857.7" cy="864.9" r="1.55"/><circle cx="865.9" cy="859.3" r="1.55"/><circle cx="916.8" cy="850.1" r="1.55"/><circle cx="902.6" cy="853.8" r="1.55"/><circle cx="866.4" cy="855.6" r="1.55"/><circle cx="924.7" cy="859.3" r="1.55"/><circle cx="836.5" cy="859.3" r="1.55"/><circle cx="880.6" cy="859.3" r="1.55"/><circle cx="852.0" cy="848.2" r="1.55"/><circle cx="837.6" cy="855.6" r="1.55"/><circle cx="865.9" cy="855.6" r="1.55"/><circle cx="843.9" cy="861.1" r="1.55"/><circle cx="851.2" cy="859.3" r="1.55"/><circle cx="902.4" cy="850.1" r="1.55"/><circle cx="924.7" cy="855.6" r="1.55"/><circle cx="887.8" cy="861.2" r="1.55"/><circle cx="836.5" cy="855.6" r="1.55"/><circle cx="880.6" cy="855.6" r="1.55"/><circle cx="844.8" cy="850.1" r="1.55"/><circle cx="827.6" cy="861.2" r="1.55"/><circle cx="821.9" cy="859.3" r="1.55"/><circle cx="917.9" cy="861.2" r="1.55"/><circle cx="835.1" cy="866.7" r="1.55"/><circle cx="910.3" cy="866.7" r="1.55"/><circle cx="910.3" cy="859.3" r="1.55"/><circle cx="859.2" cy="850.1" r="1.55"/><circle cx="843.9" cy="853.8" r="1.55"/><circle cx="880.8" cy="848.2" r="1.55"/><circle cx="851.2" cy="855.6" r="1.55"/><circle cx="895.2" cy="855.6" r="1.55"/><circle cx="924.0" cy="855.6" r="1.55"/><circle cx="842.6" cy="861.2" r="1.55"/><circle cx="830.4" cy="850.1" r="1.55"/><circle cx="931.2" cy="850.1" r="1.55"/><circle cx="872.7" cy="861.2" r="1.55"/><circle cx="821.9" cy="855.6" r="1.55"/><circle cx="873.6" cy="853.8" r="1.55"/></g><circle cx="835.3" cy="718.6" r="4.4" fill="url(#ball)"/><circle cx="866.5" cy="718.6" r="4.4" fill="url(#ball)"/><circle cx="895.7" cy="718.6" r="4.4" fill="url(#ball)"/><circle cx="927.3" cy="718.6" r="4.4" fill="url(#ball)"/><circle cx="835.3" cy="757.2" r="4.4" fill="url(#ball)"/><circle cx="866.5" cy="757.2" r="4.4" fill="url(#ball)"/><circle cx="895.7" cy="757.2" r="4.4" fill="url(#ball)"/><circle cx="927.3" cy="757.2" r="4.4" fill="url(#ball)"/><circle cx="835.3" cy="796.7" r="4.4" fill="url(#ball)"/><circle cx="866.5" cy="796.7" r="4.4" fill="url(#ball)"/><circle cx="895.7" cy="796.7" r="4.4" fill="url(#ball)"/><circle cx="927.3" cy="796.7" r="4.4" fill="url(#ball)"/><circle cx="835.3" cy="836.1" r="4.4" fill="url(#ball)"/><circle cx="866.5" cy="836.1" r="4.4" fill="url(#ball)"/><circle cx="895.7" cy="836.1" r="4.4" fill="url(#ball)"/><circle cx="927.3" cy="836.1" r="4.4" fill="url(#ball)"/></g>
<text x="509.05" y="683.20" font-size="44.40" font-style="italic" textLength="20.18" lengthAdjust="spacingAndGlyphs">x</text>
<text x="540.15" y="683.09" font-size="36.55" font-family="'Noto Sans CJK JP', 'Liberation Serif', sans-serif" font-weight="300" textLength="39.44" lengthAdjust="spacingAndGlyphs">≈</text>
<text x="587.34" y="683.40" font-size="42.50" textLength="23.12" lengthAdjust="spacingAndGlyphs">0</text>
<text x="622.27" y="683.40" font-size="42.50" textLength="42.38" lengthAdjust="spacingAndGlyphs">45</text>
<text x="812.75" y="683.20" font-size="44.40" font-style="italic" textLength="20.18" lengthAdjust="spacingAndGlyphs">x</text>
<text x="843.79" y="683.09" font-size="36.55" font-family="'Noto Sans CJK JP', 'Liberation Serif', sans-serif" font-weight="300" textLength="40.77" lengthAdjust="spacingAndGlyphs">≈</text>
<text x="891.80" y="683.40" font-size="42.50" textLength="23.59" lengthAdjust="spacingAndGlyphs">0</text>
<text x="927.39" y="683.40" font-size="42.50" textLength="43.72" lengthAdjust="spacingAndGlyphs">95</text>
<text x="460.73" y="1135.80" font-size="50.80" font-style="italic" textLength="26.51" lengthAdjust="spacingAndGlyphs">x</text>
<text x="488.53" y="1139.06" font-size="41.93" font-family="'Noto Sans CJK JP', 'Liberation Serif', sans-serif" font-weight="300" textLength="42.93" lengthAdjust="spacingAndGlyphs">≡</text>
<text x="532.49" y="1131.53" font-size="37.43" textLength="17.64" lengthAdjust="spacingAndGlyphs">c</text>
<text x="551.60" y="1141.43" font-size="58.45" textLength="14.90" lengthAdjust="spacingAndGlyphs">/</text>
<text x="568.14" y="1131.53" font-size="37.43" textLength="17.04" lengthAdjust="spacingAndGlyphs">c</text>
<text x="585.22" y="1136.75" font-size="25.49" textLength="31.98" lengthAdjust="spacingAndGlyphs">ref</text>
<text transform="translate(36.71,371.80) rotate(-90)" x="-1.27" y="0" font-size="45.22" textLength="31.72" lengthAdjust="spacingAndGlyphs">D</text>
<text transform="translate(43.29,340.80) rotate(-90)" x="-0.37" y="0" font-size="31.60" textLength="10.60" lengthAdjust="spacingAndGlyphs">t</text>
<text transform="translate(38.34,327.10) rotate(-90)" x="-1.64" y="0" font-size="44.45" textLength="12.45" lengthAdjust="spacingAndGlyphs">(</text>
<text transform="translate(34.93,313.20) rotate(-90)" x="-1.43" y="0" font-size="37.84" textLength="16.69" lengthAdjust="spacingAndGlyphs">c</text>
<text transform="translate(38.34,295.60) rotate(-90)" x="-1.10" y="0" font-size="44.45" textLength="11.41" lengthAdjust="spacingAndGlyphs">)</text>
<text transform="translate(47.17,283.00) rotate(-90)" x="-0.00" y="0" font-size="64.28" textLength="15.50" lengthAdjust="spacingAndGlyphs">/</text>
<text transform="translate(36.80,262.90) rotate(-90)" x="-0.93" y="0" font-size="40.11" textLength="34.53" lengthAdjust="spacingAndGlyphs">m</text>
<text transform="translate(18.90,227.50) rotate(-90)" x="-1.38" y="0" font-size="27.49" textLength="15.72" lengthAdjust="spacingAndGlyphs">2</text>
<text transform="translate(37.08,211.00) rotate(-90)" x="-1.88" y="0" font-size="43.04" textLength="17.84" lengthAdjust="spacingAndGlyphs">s</text>
<text transform="translate(32.21,887.30) rotate(-90)" x="0.05" y="0" font-size="39.68" font-style="italic" textLength="23.19" lengthAdjust="spacingAndGlyphs">μ</text>
<text transform="translate(38.20,862.80) rotate(-90)" x="-0.31" y="0" font-size="28.25" textLength="15.83" lengthAdjust="spacingAndGlyphs">h</text>
<text transform="translate(32.71,840.70) rotate(-90)" x="-1.68" y="0" font-size="44.11" textLength="12.71" lengthAdjust="spacingAndGlyphs">(</text>
<text transform="translate(31.95,827.80) rotate(-90)" x="-1.42" y="0" font-size="35.76" textLength="16.57" lengthAdjust="spacingAndGlyphs">c</text>
<text transform="translate(32.71,809.60) rotate(-90)" x="-1.19" y="0" font-size="44.11" textLength="12.32" lengthAdjust="spacingAndGlyphs">)</text>
<text transform="translate(41.52,793.80) rotate(-90)" x="-0.00" y="0" font-size="59.80" textLength="15.00" lengthAdjust="spacingAndGlyphs">/</text>
<text transform="translate(30.09,770.70) rotate(-90)" x="-1.32" y="0" font-size="42.21" font-style="italic" textLength="19.09" lengthAdjust="spacingAndGlyphs">e</text>
</svg></body></html>
